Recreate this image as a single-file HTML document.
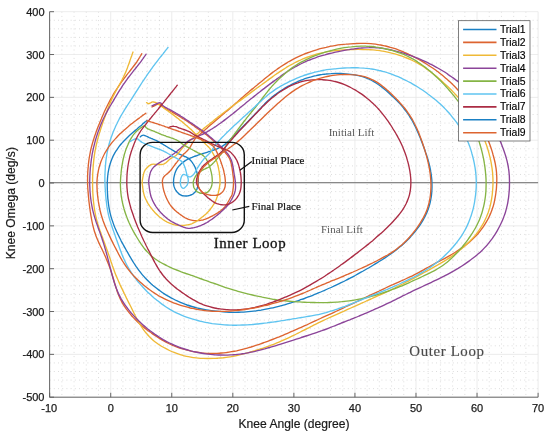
<!DOCTYPE html>
<html><head><meta charset="utf-8"><title>Knee phase plot</title>
<style>html,body{margin:0;padding:0;background:#fff}svg{display:block}</style></head>
<body>
<svg width="550" height="438" viewBox="0 0 550 438">
<rect width="550" height="438" fill="#fff"/>
<path d="M61.86 11.7V397.2M74.07 11.7V397.2M86.28 11.7V397.2M98.50 11.7V397.2M122.92 11.7V397.2M135.13 11.7V397.2M147.34 11.7V397.2M159.55 11.7V397.2M183.97 11.7V397.2M196.19 11.7V397.2M208.40 11.7V397.2M220.61 11.7V397.2M245.03 11.7V397.2M257.24 11.7V397.2M269.45 11.7V397.2M281.66 11.7V397.2M306.09 11.7V397.2M318.30 11.7V397.2M330.51 11.7V397.2M342.72 11.7V397.2M367.14 11.7V397.2M379.35 11.7V397.2M391.57 11.7V397.2M403.78 11.7V397.2M428.20 11.7V397.2M440.41 11.7V397.2M452.62 11.7V397.2M464.83 11.7V397.2M489.25 11.7V397.2M501.47 11.7V397.2M513.68 11.7V397.2M525.89 11.7V397.2M49.6 20.27H538.1M49.6 28.83H538.1M49.6 37.40H538.1M49.6 45.97H538.1M49.6 63.10H538.1M49.6 71.67H538.1M49.6 80.23H538.1M49.6 88.80H538.1M49.6 105.93H538.1M49.6 114.50H538.1M49.6 123.07H538.1M49.6 131.63H538.1M49.6 148.77H538.1M49.6 157.33H538.1M49.6 165.90H538.1M49.6 174.47H538.1M49.6 191.60H538.1M49.6 200.17H538.1M49.6 208.73H538.1M49.6 217.30H538.1M49.6 234.43H538.1M49.6 243.00H538.1M49.6 251.57H538.1M49.6 260.13H538.1M49.6 277.27H538.1M49.6 285.83H538.1M49.6 294.40H538.1M49.6 302.97H538.1M49.6 320.10H538.1M49.6 328.67H538.1M49.6 337.23H538.1M49.6 345.80H538.1M49.6 362.93H538.1M49.6 371.50H538.1M49.6 380.07H538.1M49.6 388.63H538.1" stroke="#cfcfcf" stroke-width="0.7" stroke-dasharray="1 3.2" fill="none"/>
<path d="M49.65 11.7V397.2M110.71 11.7V397.2M171.76 11.7V397.2M232.82 11.7V397.2M293.88 11.7V397.2M354.93 11.7V397.2M415.99 11.7V397.2M477.04 11.7V397.2M538.10 11.7V397.2M49.6 11.70H538.1M49.6 54.53H538.1M49.6 97.37H538.1M49.6 140.20H538.1M49.6 183.03H538.1M49.6 225.87H538.1M49.6 268.70H538.1M49.6 311.53H538.1M49.6 354.37H538.1M49.6 397.20H538.1" stroke="#e7e7e7" stroke-width="0.8" fill="none"/>
<path d="M49.6 182.70H538.1" stroke="#686868" stroke-width="0.95" fill="none"/>
<g fill="none" stroke-width="1.35" stroke-linejoin="round" stroke-linecap="round">
<path d="M140.3 136.9C140.5 136.7 141.2 135.9 141.8 135.6C142.4 135.3 143.1 135.1 143.7 135.2C144.3 135.2 145.0 135.6 145.6 135.8C146.2 136.1 146.8 136.4 147.4 136.7C148.0 137.0 148.6 137.3 149.2 137.6C149.8 137.8 150.4 138.1 151.0 138.3C151.6 138.6 152.3 138.8 152.9 139.1C153.5 139.3 154.1 139.6 154.7 139.9C155.3 140.1 155.9 140.4 156.5 140.7C157.1 141.0 157.7 141.3 158.3 141.6C158.9 141.9 159.5 142.3 160.1 142.6C160.6 142.9 161.2 143.3 161.8 143.6C162.3 144.0 162.9 144.3 163.5 144.7C164.1 145.0 164.6 145.4 165.2 145.7C165.8 146.0 166.3 146.4 166.9 146.7C167.5 147.1 168.0 147.4 168.6 147.8C169.2 148.1 169.8 148.5 170.3 148.8C170.9 149.2 171.5 149.5 172.0 149.8C172.6 150.2 173.2 150.5 173.8 150.9C174.3 151.2 174.9 151.6 175.5 151.9C176.0 152.2 176.6 152.6 177.2 152.9C177.8 153.2 178.4 153.6 178.9 153.9C179.5 154.2 180.1 154.5 180.8 154.7C181.4 155.0 182.0 155.2 182.6 155.5C183.2 155.7 183.8 156.0 184.4 156.3C185.1 156.5 185.7 156.8 186.3 157.1C186.9 157.4 187.4 157.7 188.0 158.1C188.5 158.5 189.1 158.9 189.5 159.4C190.0 159.8 190.5 160.3 190.9 160.8C191.4 161.3 191.8 161.8 192.2 162.3C192.6 162.9 193.0 163.4 193.3 164.0C193.7 164.6 194.0 165.2 194.3 165.7C194.6 166.3 194.9 166.9 195.2 167.5C195.4 168.2 195.7 168.8 195.9 169.4C196.1 170.0 196.4 170.7 196.6 171.3C196.8 171.9 196.9 172.6 197.1 173.2C197.3 173.9 197.4 174.5 197.6 175.2C197.7 175.8 197.8 176.5 197.9 177.1C198.1 177.8 198.1 178.4 198.2 179.1C198.3 179.8 198.3 180.4 198.3 181.1C198.3 181.8 198.3 182.4 198.3 183.1C198.2 183.8 198.1 184.4 198.0 185.1C197.9 185.7 197.8 186.4 197.6 187.0C197.4 187.7 197.2 188.3 197.0 188.9C196.7 189.6 196.4 190.2 196.1 190.7C195.7 191.3 195.3 191.8 194.9 192.3C194.4 192.8 193.9 193.2 193.4 193.6C192.8 194.0 192.3 194.4 191.7 194.7C191.1 195.0 190.5 195.2 189.8 195.4C189.2 195.6 188.5 195.7 187.9 195.8C187.2 195.9 186.5 196.0 185.9 196.0C185.2 196.0 184.5 196.0 183.9 195.9C183.2 195.8 182.6 195.7 181.9 195.5C181.3 195.3 180.7 195.0 180.1 194.6C179.6 194.3 179.0 193.9 178.5 193.4C178.0 193.0 177.6 192.5 177.1 192.0C176.7 191.5 176.3 191.0 175.9 190.5C175.5 189.9 175.2 189.3 174.9 188.7C174.6 188.1 174.4 187.5 174.2 186.9C174.0 186.2 173.8 185.6 173.7 184.9C173.6 184.3 173.6 183.6 173.6 182.9C173.5 182.3 173.5 181.6 173.6 180.9C173.6 180.3 173.6 179.6 173.7 178.9C173.8 178.3 173.9 177.6 174.0 177.0C174.2 176.3 174.3 175.6 174.5 175.0C174.6 174.4 174.8 173.7 175.0 173.1C175.2 172.5 175.5 171.8 175.7 171.2C176.0 170.6 176.3 170.0 176.6 169.4C176.9 168.8 177.3 168.3 177.7 167.7C178.1 167.2 178.5 166.7 178.9 166.2C179.4 165.6 179.8 165.2 180.3 164.7C180.8 164.2 181.2 163.8 181.7 163.3C182.2 162.9 182.8 162.5 183.3 162.1C183.8 161.6 184.4 161.3 184.9 160.9C185.5 160.5 186.0 160.2 186.6 159.9C187.2 159.5 187.8 159.2 188.4 158.9C189.0 158.7 189.6 158.4 190.2 158.1C190.8 157.8 191.4 157.6 192.1 157.3C192.7 157.1 193.3 156.9 193.9 156.6C194.6 156.4 195.2 156.2 195.8 156.0C196.5 155.8 197.1 155.5 197.7 155.3C198.4 155.1 199.0 154.9 199.6 154.7C200.3 154.5 200.9 154.3 201.5 154.1C202.2 153.9 202.8 153.7 203.4 153.5C204.1 153.3 204.7 153.1 205.3 152.9C206.0 152.7 206.6 152.5 207.2 152.3C207.9 152.1 208.5 151.9 209.1 151.7C209.8 151.5 210.4 151.3 211.0 151.0C211.7 150.8 212.3 150.6 212.9 150.4C213.6 150.2 214.2 150.0 214.8 149.7C215.5 149.5 216.1 149.3 216.7 149.0C217.3 148.8 217.9 148.5 218.5 148.2C219.1 147.9 219.7 147.6 220.3 147.3C220.9 147.0 221.5 146.7 222.0 146.3C222.6 146.0 223.2 145.6 223.7 145.2C224.3 144.9 224.8 144.5 225.3 144.1C225.9 143.6 226.4 143.2 226.9 142.8C227.4 142.3 227.8 141.9 228.3 141.4C228.8 140.9 229.3 140.5 229.8 140.0C230.2 139.5 230.7 139.1 231.2 138.6C231.6 138.1 232.1 137.6 232.6 137.2C233.0 136.7 233.5 136.2 234.0 135.7C234.4 135.3 234.9 134.8 235.4 134.3C235.8 133.8 236.0 133.7 236.8 132.9C237.6 132.0 239.1 130.5 240.3 129.3C241.5 128.1 242.6 127.0 243.8 125.8C245.0 124.6 246.1 123.4 247.3 122.2C248.5 121.0 249.6 119.8 250.8 118.6C251.9 117.4 253.1 116.2 254.2 115.0C255.4 113.8 256.5 112.6 257.7 111.4C258.8 110.1 259.9 108.9 261.1 107.7C262.2 106.5 263.4 105.3 264.5 104.1C265.7 102.9 266.9 101.8 268.1 100.6C269.3 99.5 270.5 98.4 271.8 97.3C273.1 96.3 274.4 95.2 275.7 94.3C277.0 93.3 278.4 92.3 279.8 91.4C281.2 90.5 282.6 89.6 284.0 88.7C285.4 87.9 286.9 87.0 288.3 86.2C289.8 85.4 291.2 84.7 292.7 83.9C294.2 83.2 295.7 82.5 297.2 81.8C298.8 81.1 300.3 80.5 301.8 79.9C303.4 79.3 304.9 78.7 306.5 78.2C308.1 77.7 309.7 77.2 311.3 76.8C312.9 76.3 314.5 75.9 316.1 75.6C317.7 75.2 319.4 74.9 321.0 74.6C322.6 74.4 324.3 74.1 325.9 74.0C327.6 73.8 329.2 73.6 330.9 73.6C332.6 73.5 334.2 73.4 335.9 73.4C337.5 73.4 339.2 73.4 340.9 73.5C342.5 73.6 344.2 73.7 345.8 73.8C347.5 74.0 349.1 74.2 350.8 74.4C352.4 74.6 354.1 74.9 355.7 75.2C357.3 75.5 358.9 75.8 360.5 76.2C362.1 76.6 363.7 77.1 365.3 77.6C366.8 78.2 368.3 78.8 369.8 79.5C371.3 80.2 372.7 80.9 374.2 81.8C375.6 82.6 376.9 83.5 378.3 84.5C379.7 85.4 381.0 86.4 382.3 87.4C383.6 88.5 384.8 89.5 386.1 90.6C387.4 91.7 388.6 92.8 389.9 93.9C391.1 95.0 392.3 96.1 393.5 97.3C394.7 98.4 395.9 99.6 397.1 100.8C398.2 102.0 399.4 103.2 400.5 104.4C401.6 105.7 402.7 106.9 403.7 108.2C404.8 109.5 405.8 110.8 406.8 112.2C407.7 113.5 408.7 114.9 409.6 116.3C410.4 117.7 411.3 119.1 412.1 120.5C412.9 122.0 413.7 123.5 414.4 124.9C415.2 126.4 415.9 127.9 416.6 129.4C417.3 130.9 417.9 132.5 418.6 134.0C419.2 135.5 419.9 137.1 420.5 138.6C421.1 140.2 421.7 141.7 422.3 143.3C422.9 144.8 423.5 146.4 424.1 148.0C424.6 149.5 425.2 151.1 425.7 152.7C426.3 154.2 426.8 155.8 427.3 157.4C427.8 159.0 428.2 160.6 428.7 162.2C429.1 163.8 429.5 165.4 429.9 167.0C430.2 168.7 430.6 170.3 430.8 171.9C431.1 173.6 431.4 175.2 431.5 176.8C431.7 178.5 431.9 180.1 431.9 181.8C432.0 183.4 432.0 185.1 432.0 186.8C432.0 188.4 431.9 190.1 431.8 191.7C431.7 193.4 431.5 195.0 431.3 196.7C431.0 198.3 430.7 199.9 430.4 201.5C430.0 203.1 429.6 204.7 429.1 206.3C428.7 207.9 428.1 209.5 427.5 211.0C426.9 212.5 426.2 214.0 425.5 215.5C424.8 217.0 424.0 218.4 423.2 219.9C422.4 221.3 421.5 222.7 420.6 224.1C419.7 225.5 418.7 226.9 417.7 228.2C416.7 229.5 415.7 230.8 414.7 232.1C413.6 233.4 412.5 234.7 411.4 235.9C410.3 237.1 409.2 238.4 408.0 239.5C406.8 240.7 405.6 241.9 404.4 243.0C403.2 244.1 401.9 245.2 400.7 246.3C399.4 247.4 398.1 248.4 396.8 249.4C395.5 250.5 394.2 251.5 392.8 252.5C391.5 253.4 390.1 254.4 388.8 255.3C387.4 256.3 386.0 257.2 384.6 258.1C383.2 259.0 381.8 259.9 380.4 260.8C379.0 261.7 377.6 262.5 376.1 263.4C374.7 264.3 373.3 265.1 371.8 266.0C370.4 266.8 369.0 267.7 367.5 268.5C366.1 269.3 364.6 270.2 363.2 271.0C361.7 271.8 360.3 272.6 358.8 273.4C357.4 274.3 355.9 275.1 354.5 275.9C353.0 276.7 351.5 277.4 350.1 278.2C348.6 279.0 347.1 279.8 345.6 280.5C344.1 281.3 342.6 282.0 341.1 282.7C339.6 283.5 338.1 284.2 336.6 284.9C335.1 285.6 333.6 286.3 332.1 287.0C330.6 287.7 329.0 288.3 327.5 289.0C326.0 289.7 324.5 290.3 322.9 291.0C321.4 291.7 319.9 292.3 318.3 292.9C316.8 293.6 315.2 294.2 313.7 294.8C312.2 295.5 310.6 296.1 309.1 296.7C307.5 297.3 305.9 297.9 304.4 298.5C302.8 299.0 301.2 299.6 299.7 300.1C298.1 300.7 296.5 301.2 294.9 301.7C293.4 302.2 291.8 302.7 290.2 303.2C288.6 303.7 287.0 304.2 285.4 304.6C283.8 305.0 282.2 305.5 280.5 305.9C278.9 306.3 277.3 306.7 275.7 307.1C274.1 307.5 272.4 307.9 270.8 308.2C269.2 308.6 267.6 308.9 265.9 309.2C264.3 309.5 262.7 309.8 261.0 310.1C259.4 310.3 257.7 310.6 256.1 310.8C254.4 311.1 252.8 311.3 251.1 311.4C249.5 311.6 247.8 311.8 246.1 311.9C244.5 312.0 242.8 312.1 241.2 312.2C239.5 312.3 237.8 312.3 236.2 312.4C234.5 312.4 232.8 312.4 231.2 312.3C229.5 312.3 227.9 312.2 226.2 312.1C224.5 312.0 222.9 311.9 221.2 311.7C219.6 311.6 217.9 311.4 216.3 311.2C214.6 311.1 212.9 310.9 211.3 310.6C209.6 310.4 208.0 310.2 206.4 309.9C204.7 309.6 203.1 309.3 201.5 309.0C199.8 308.6 198.2 308.3 196.6 307.9C195.0 307.5 193.4 307.0 191.8 306.5C190.2 306.0 188.6 305.5 187.1 305.0C185.5 304.4 184.0 303.8 182.4 303.2C180.9 302.6 179.4 301.9 177.8 301.2C176.3 300.5 174.8 299.8 173.4 299.0C171.9 298.3 170.4 297.5 169.0 296.6C167.5 295.8 166.1 295.0 164.7 294.1C163.3 293.2 161.9 292.3 160.6 291.3C159.2 290.4 157.9 289.4 156.6 288.3C155.3 287.3 154.0 286.3 152.7 285.2C151.5 284.1 150.2 283.0 149.0 281.8C147.8 280.7 146.7 279.5 145.5 278.3C144.4 277.1 143.3 275.9 142.2 274.6C141.1 273.3 140.1 272.0 139.1 270.7C138.1 269.4 137.2 268.0 136.2 266.7C135.3 265.3 134.4 263.9 133.5 262.5C132.6 261.1 131.8 259.6 130.9 258.2C130.1 256.8 129.2 255.3 128.4 253.9C127.6 252.4 126.7 251.0 125.9 249.5C125.1 248.1 124.3 246.6 123.5 245.2C122.7 243.7 121.9 242.2 121.1 240.8C120.4 239.3 119.6 237.8 118.9 236.3C118.1 234.8 117.4 233.3 116.7 231.8C116.1 230.3 115.4 228.8 114.7 227.2C114.1 225.7 113.5 224.1 113.0 222.6C112.4 221.0 111.9 219.5 111.4 217.9C110.9 216.3 110.5 214.7 110.1 213.1C109.7 211.4 109.4 209.8 109.1 208.2C108.8 206.6 108.6 204.9 108.4 203.3C108.2 201.6 108.0 200.0 107.8 198.3C107.7 196.7 107.6 195.0 107.5 193.3C107.4 191.7 107.3 190.0 107.3 188.3C107.3 186.7 107.2 185.0 107.3 183.4C107.3 181.7 107.4 180.0 107.5 178.4C107.6 176.7 107.8 175.1 108.0 173.5C108.3 171.8 108.5 170.2 108.9 168.6C109.3 167.0 109.7 165.4 110.2 163.8C110.6 162.2 111.2 160.7 111.8 159.2C112.4 157.6 113.1 156.1 113.9 154.7C114.6 153.2 115.5 151.8 116.4 150.4C117.3 149.1 118.2 147.7 119.2 146.4C120.2 145.1 121.3 143.9 122.4 142.6C123.5 141.4 124.7 140.2 125.9 139.0C127.0 137.9 128.2 136.7 129.4 135.6C130.7 134.4 131.9 133.3 133.1 132.2C134.4 131.1 135.7 130.1 137.0 129.0C138.2 127.9 139.9 126.5 140.8 125.8C141.7 125.0 141.8 124.9 142.3 124.4C142.8 124.0 143.3 123.6 143.8 123.1C144.3 122.7 144.8 122.3 145.3 121.8C145.8 121.4 146.5 120.7 146.8 120.5C147.0 120.3 146.8 120.5 146.8 120.5C146.8 120.4 147.0 120.2 147.0 120.2" stroke="#1A80C4"/>
<path d="M152.0 107.0C152.3 106.8 153.2 106.4 153.8 106.1C154.4 105.8 155.0 105.5 155.6 105.2C156.2 104.9 156.8 104.6 157.4 104.4C158.0 104.2 158.7 103.8 159.3 103.9C159.9 104.0 160.6 104.3 161.1 104.7C161.6 105.1 161.9 105.8 162.4 106.2C162.9 106.7 163.4 107.1 164.0 107.5C164.5 107.9 165.1 108.2 165.7 108.5C166.2 108.9 166.8 109.2 167.4 109.5C168.0 109.8 168.6 110.2 169.1 110.5C169.7 110.8 170.3 111.1 170.9 111.5C171.5 111.8 172.1 112.1 172.6 112.4C173.2 112.8 173.8 113.1 174.4 113.4C174.9 113.8 175.5 114.1 176.1 114.5C176.7 114.8 177.2 115.2 177.8 115.5C178.4 115.8 178.9 116.2 179.5 116.5C180.1 116.9 180.6 117.2 181.2 117.6C181.8 117.9 182.4 118.3 182.9 118.6C183.5 119.0 184.1 119.3 184.6 119.7C185.2 120.0 185.7 120.4 186.3 120.7C186.9 121.1 187.4 121.5 188.0 121.8C188.5 122.2 189.1 122.6 189.7 122.9C190.2 123.3 190.8 123.7 191.3 124.1C191.9 124.4 192.4 124.8 192.9 125.2C193.5 125.6 194.0 126.0 194.6 126.4C195.1 126.8 195.6 127.2 196.2 127.6C196.7 127.9 197.3 128.3 197.8 128.7C198.3 129.1 198.9 129.5 199.4 129.9C200.0 130.3 200.5 130.7 201.0 131.1C201.6 131.5 202.1 131.9 202.7 132.3C203.2 132.6 203.8 133.0 204.3 133.4C204.9 133.8 205.4 134.1 205.9 134.5C206.5 134.9 207.0 135.4 207.5 135.8C208.0 136.2 208.5 136.6 209.1 137.0C209.6 137.5 210.1 137.9 210.6 138.3C211.1 138.8 211.6 139.2 212.1 139.6C212.6 140.1 213.1 140.5 213.6 141.0C214.1 141.4 214.6 141.9 215.1 142.3C215.6 142.7 216.1 143.2 216.6 143.7C217.1 144.1 217.5 144.6 218.0 145.0C218.5 145.5 219.0 145.9 219.5 146.4C219.9 146.9 220.4 147.4 220.9 147.8C221.3 148.3 221.8 148.8 222.3 149.3C222.7 149.7 223.2 150.2 223.6 150.7C224.1 151.2 224.5 151.7 225.0 152.2C225.4 152.7 225.8 153.3 226.2 153.8C226.6 154.3 227.1 154.8 227.5 155.3C227.9 155.9 228.3 156.4 228.6 157.0C229.0 157.5 229.3 158.1 229.6 158.7C229.9 159.3 230.1 159.9 230.3 160.6C230.6 161.2 230.8 161.8 230.9 162.5C231.1 163.1 231.2 163.8 231.4 164.4C231.5 165.1 231.6 165.7 231.7 166.4C231.9 167.1 232.0 167.7 232.1 168.4C232.2 169.0 232.3 169.7 232.4 170.3C232.5 171.0 232.6 171.7 232.7 172.3C232.8 173.0 232.9 173.6 232.9 174.3C233.0 175.0 233.1 175.6 233.2 176.3C233.3 176.9 233.4 177.6 233.5 178.3C233.5 178.9 233.6 179.6 233.6 180.3C233.6 180.9 233.6 181.6 233.6 182.3C233.6 182.9 233.6 183.6 233.5 184.3C233.5 184.9 233.4 185.6 233.4 186.3C233.3 186.9 233.3 187.6 233.2 188.2C233.1 188.9 233.0 189.6 232.9 190.2C232.9 190.9 232.8 191.6 232.6 192.2C232.5 192.9 232.4 193.5 232.2 194.2C232.0 194.8 231.8 195.4 231.5 196.0C231.2 196.6 230.8 197.1 230.4 197.7C230.1 198.3 229.8 198.9 229.5 199.5C229.2 200.1 228.9 200.7 228.5 201.2C228.2 201.8 227.9 202.4 227.5 203.0C227.2 203.5 226.8 204.1 226.5 204.7C226.1 205.2 225.7 205.8 225.3 206.3C224.9 206.8 224.5 207.3 224.0 207.8C223.5 208.3 223.1 208.7 222.6 209.2C222.1 209.6 221.5 210.0 221.0 210.5C220.5 210.9 220.0 211.3 219.4 211.6C218.9 212.0 218.3 212.4 217.7 212.8C217.2 213.1 216.6 213.5 216.0 213.8C215.5 214.2 214.9 214.5 214.3 214.8C213.7 215.1 213.2 215.5 212.6 215.8C212.0 216.1 211.4 216.4 210.8 216.7C210.2 217.0 209.6 217.3 209.0 217.6C208.4 217.9 207.8 218.2 207.2 218.4C206.6 218.7 206.0 218.9 205.3 219.2C204.7 219.4 204.1 219.6 203.4 219.8C202.8 220.0 202.1 220.1 201.5 220.2C200.8 220.3 200.2 220.4 199.5 220.5C198.8 220.6 198.2 220.6 197.5 220.6C196.8 220.6 196.2 220.6 195.5 220.6C194.8 220.6 194.2 220.5 193.5 220.5C192.8 220.4 192.2 220.3 191.5 220.1C190.9 220.0 190.2 219.9 189.6 219.7C188.9 219.5 188.3 219.3 187.7 219.0C187.1 218.8 186.5 218.5 185.9 218.2C185.3 217.9 184.7 217.5 184.2 217.2C183.6 216.8 183.0 216.4 182.5 216.1C181.9 215.7 181.4 215.3 180.8 214.9C180.3 214.5 179.8 214.1 179.2 213.7C178.7 213.3 178.2 212.9 177.7 212.5C177.1 212.1 176.6 211.7 176.1 211.2C175.6 210.8 175.1 210.4 174.6 209.9C174.1 209.5 173.7 209.0 173.2 208.5C172.7 208.0 172.3 207.5 171.9 207.0C171.4 206.5 171.0 206.0 170.6 205.4C170.2 204.9 169.9 204.4 169.5 203.8C169.1 203.2 168.8 202.7 168.5 202.1C168.1 201.5 167.8 200.9 167.5 200.3C167.2 199.7 166.9 199.1 166.7 198.5C166.4 197.9 166.1 197.3 165.9 196.7C165.6 196.1 165.4 195.4 165.1 194.8C164.9 194.2 164.7 193.6 164.5 192.9C164.3 192.3 164.1 191.7 163.9 191.0C163.7 190.4 163.6 189.7 163.4 189.1C163.3 188.4 163.1 187.8 163.0 187.1C162.9 186.5 162.8 185.8 162.7 185.1C162.6 184.5 162.6 183.8 162.5 183.1C162.4 182.5 162.4 181.8 162.4 181.2C162.4 180.5 162.5 179.8 162.7 179.2C162.9 178.5 163.2 177.9 163.5 177.4C163.9 176.8 164.3 176.3 164.8 175.8C165.2 175.3 165.8 174.9 166.3 174.5C166.8 174.0 167.3 173.6 167.8 173.2C168.3 172.7 168.8 172.3 169.3 171.9C169.8 171.4 170.2 170.9 170.6 170.4C171.1 169.9 171.5 169.4 171.9 168.8C172.3 168.3 172.7 167.8 173.1 167.2C173.5 166.7 173.9 166.1 174.3 165.6C174.7 165.1 175.0 164.5 175.4 164.0C175.8 163.5 176.2 162.9 176.7 162.4C177.1 161.9 177.5 161.4 177.9 160.8C178.3 160.3 178.7 159.8 179.2 159.3C179.6 158.8 180.0 158.2 180.4 157.7C180.9 157.2 181.3 156.7 181.7 156.2C182.2 155.7 182.6 155.2 183.1 154.7C183.5 154.2 184.0 153.8 184.5 153.3C185.0 152.9 185.5 152.4 186.0 152.0C186.5 151.5 187.0 151.1 187.4 150.6C187.9 150.1 188.3 149.6 188.7 149.1C189.2 148.6 189.5 148.0 189.9 147.5C190.3 146.9 190.6 146.3 190.9 145.8C191.3 145.2 191.6 144.6 191.9 144.0C192.2 143.4 192.5 142.9 192.9 142.3C193.2 141.7 193.5 141.1 193.9 140.6C194.3 140.0 194.7 139.5 195.1 138.9C195.5 138.4 195.9 137.9 196.4 137.4C196.8 136.9 197.3 136.5 197.8 136.0C198.3 135.6 198.8 135.2 199.3 134.8C199.9 134.3 200.4 133.9 200.9 133.4C201.4 133.0 201.9 132.6 202.4 132.1C202.9 131.7 203.4 131.2 203.9 130.8C204.4 130.4 204.9 129.9 205.4 129.5C205.9 129.0 206.4 128.6 206.9 128.2C207.4 127.7 207.9 127.3 208.4 126.8C208.9 126.4 209.4 126.0 209.9 125.5C210.4 125.1 210.5 125.0 211.4 124.2C212.3 123.4 213.9 122.0 215.2 120.9C216.4 119.9 217.7 118.8 219.0 117.7C220.3 116.6 221.5 115.6 222.8 114.5C224.1 113.4 225.3 112.3 226.6 111.3C227.9 110.2 229.1 109.1 230.4 108.0C231.7 106.9 232.9 105.8 234.1 104.7C235.4 103.6 236.6 102.5 237.9 101.4C239.1 100.3 240.4 99.2 241.6 98.1C242.9 97.0 244.1 95.9 245.4 94.8C246.7 93.7 247.9 92.6 249.2 91.6C250.5 90.5 251.8 89.4 253.1 88.4C254.3 87.3 255.6 86.2 256.9 85.2C258.2 84.1 259.5 83.0 260.8 82.0C262.0 80.9 263.3 79.9 264.6 78.8C265.9 77.7 267.2 76.7 268.5 75.7C269.8 74.6 271.1 73.6 272.4 72.6C273.8 71.6 275.1 70.6 276.5 69.7C277.8 68.7 279.2 67.8 280.6 66.8C282.0 65.9 283.4 65.0 284.8 64.1C286.2 63.2 287.6 62.4 289.0 61.5C290.5 60.7 291.9 59.9 293.4 59.1C294.9 58.3 296.4 57.6 297.9 56.9C299.4 56.2 300.9 55.5 302.4 54.8C303.9 54.2 305.5 53.5 307.0 53.0C308.6 52.4 310.2 51.8 311.7 51.3C313.3 50.7 314.9 50.2 316.5 49.8C318.1 49.3 319.7 48.8 321.3 48.4C322.9 48.0 324.5 47.6 326.1 47.3C327.8 46.9 329.4 46.6 331.0 46.2C332.7 45.9 334.3 45.7 335.9 45.4C337.6 45.1 339.2 44.9 340.9 44.7C342.5 44.5 344.2 44.3 345.9 44.2C347.5 44.0 349.2 43.9 350.8 43.8C352.5 43.6 354.2 43.5 355.8 43.5C357.5 43.4 359.1 43.4 360.8 43.4C362.5 43.3 364.1 43.4 365.8 43.4C367.4 43.5 369.1 43.6 370.8 43.7C372.4 43.8 374.1 44.0 375.7 44.2C377.4 44.5 379.0 44.7 380.6 45.0C382.3 45.3 383.9 45.7 385.5 46.0C387.1 46.4 388.7 46.8 390.3 47.3C391.9 47.7 393.5 48.2 395.1 48.7C396.7 49.2 398.2 49.8 399.8 50.4C401.3 51.0 402.9 51.6 404.4 52.3C405.9 52.9 407.5 53.6 408.9 54.3C410.4 55.0 411.9 55.8 413.4 56.6C414.9 57.3 416.4 58.1 417.8 58.9C419.3 59.7 420.7 60.6 422.1 61.4C423.6 62.3 425.0 63.1 426.4 64.0C427.8 64.9 429.2 65.8 430.6 66.7C432.0 67.6 433.4 68.5 434.8 69.5C436.1 70.5 437.5 71.4 438.8 72.4C440.1 73.5 441.4 74.5 442.7 75.5C444.0 76.6 445.2 77.7 446.5 78.8C447.7 79.9 449.0 81.0 450.2 82.1C451.4 83.3 452.6 84.4 453.7 85.6C454.9 86.8 456.1 88.0 457.2 89.2C458.3 90.4 459.5 91.7 460.6 92.9C461.7 94.2 462.8 95.4 463.8 96.7C464.9 98.0 465.9 99.3 467.0 100.6C468.0 101.9 469.0 103.2 470.0 104.6C470.9 105.9 471.9 107.3 472.8 108.7C473.7 110.0 474.6 111.5 475.5 112.9C476.3 114.3 477.2 115.7 478.0 117.2C478.7 118.7 479.5 120.1 480.3 121.6C481.0 123.1 481.7 124.6 482.4 126.1C483.1 127.6 483.8 129.2 484.4 130.7C485.1 132.2 485.7 133.8 486.3 135.3C487.0 136.9 487.6 138.4 488.1 140.0C488.7 141.5 489.3 143.1 489.9 144.7C490.4 146.2 491.0 147.8 491.5 149.4C492.0 151.0 492.5 152.6 492.9 154.2C493.4 155.8 493.8 157.4 494.2 159.0C494.6 160.6 495.0 162.2 495.3 163.8C495.6 165.5 495.9 167.1 496.1 168.7C496.3 170.4 496.5 172.0 496.6 173.7C496.7 175.3 496.8 177.0 496.8 178.6C496.8 180.3 496.8 182.0 496.7 183.6C496.6 185.3 496.5 186.9 496.4 188.6C496.2 190.2 496.0 191.9 495.8 193.5C495.6 195.2 495.3 196.8 495.0 198.4C494.7 200.1 494.4 201.7 494.0 203.3C493.6 204.9 493.2 206.5 492.6 208.0C492.1 209.6 491.6 211.2 490.9 212.7C490.3 214.2 489.6 215.7 488.9 217.2C488.2 218.7 487.4 220.1 486.5 221.6C485.7 223.0 484.8 224.4 483.9 225.8C483.0 227.2 482.0 228.5 481.0 229.8C480.0 231.2 479.0 232.4 477.9 233.7C476.8 234.9 475.7 236.1 474.5 237.3C473.3 238.5 472.1 239.6 470.9 240.7C469.7 241.8 468.4 242.9 467.1 243.9C465.8 245.0 464.5 246.0 463.1 247.0C461.8 247.9 460.4 248.9 459.0 249.8C457.7 250.8 456.3 251.7 454.9 252.5C453.4 253.4 452.0 254.3 450.6 255.1C449.1 256.0 447.7 256.8 446.2 257.6C444.8 258.4 443.3 259.2 441.8 259.9C440.4 260.7 438.9 261.5 437.4 262.2C435.9 263.0 434.5 263.8 433.0 264.6C431.5 265.4 430.1 266.2 428.6 267.0C427.2 267.8 425.7 268.6 424.3 269.4C422.8 270.2 421.4 271.1 419.9 271.8C418.5 272.6 417.0 273.4 415.5 274.2C414.0 274.9 412.6 275.7 411.1 276.4C409.6 277.1 408.0 277.8 406.5 278.5C405.0 279.2 403.5 279.9 402.0 280.5C400.5 281.2 398.9 281.9 397.4 282.6C395.9 283.3 394.4 284.0 392.9 284.7C391.3 285.3 389.8 286.0 388.3 286.7C386.8 287.4 385.3 288.1 383.8 288.8C382.3 289.5 380.8 290.2 379.2 291.0C377.7 291.7 376.2 292.4 374.7 293.1C373.2 293.8 371.7 294.5 370.2 295.2C368.7 296.0 367.2 296.7 365.7 297.4C364.2 298.1 362.7 298.9 361.2 299.6C359.7 300.3 358.2 301.0 356.7 301.7C355.2 302.5 353.7 303.2 352.2 303.9C350.7 304.6 349.2 305.3 347.7 306.0C346.1 306.7 344.6 307.4 343.1 308.1C341.6 308.8 340.1 309.5 338.6 310.2C337.1 310.9 335.5 311.6 334.0 312.3C332.5 313.0 331.0 313.7 329.5 314.3C328.0 315.0 326.4 315.7 324.9 316.4C323.4 317.1 321.9 317.8 320.4 318.5C318.9 319.2 317.4 319.9 315.8 320.6C314.3 321.3 312.8 322.0 311.3 322.7C309.8 323.4 308.3 324.1 306.8 324.8C305.2 325.4 303.7 326.1 302.2 326.8C300.7 327.5 299.1 328.1 297.6 328.8C296.1 329.5 294.6 330.2 293.1 330.9C291.5 331.5 290.0 332.2 288.5 332.9C287.0 333.5 285.4 334.2 283.9 334.8C282.4 335.5 280.8 336.1 279.3 336.8C277.7 337.4 276.2 338.0 274.6 338.6C273.1 339.2 271.5 339.8 270.0 340.4C268.4 341.0 266.9 341.6 265.3 342.2C263.7 342.7 262.2 343.3 260.6 343.8C259.0 344.4 257.4 344.9 255.8 345.4C254.3 346.0 252.7 346.5 251.1 347.0C249.5 347.4 247.9 347.9 246.3 348.3C244.7 348.8 243.1 349.2 241.5 349.6C239.8 350.0 238.2 350.4 236.6 350.8C235.0 351.1 233.3 351.4 231.7 351.7C230.1 352.0 228.4 352.3 226.8 352.5C225.1 352.7 223.5 352.9 221.8 353.0C220.2 353.2 218.5 353.3 216.9 353.3C215.2 353.4 213.5 353.4 211.9 353.4C210.2 353.4 208.6 353.3 206.9 353.3C205.2 353.2 203.6 353.0 201.9 352.9C200.3 352.7 198.6 352.5 197.0 352.2C195.4 352.0 193.7 351.7 192.1 351.3C190.5 351.0 188.9 350.6 187.3 350.2C185.6 349.8 184.0 349.4 182.5 348.9C180.9 348.4 179.3 347.9 177.7 347.3C176.2 346.8 174.6 346.2 173.1 345.5C171.6 344.9 170.1 344.2 168.6 343.5C167.1 342.7 165.6 341.9 164.2 341.1C162.7 340.3 161.3 339.5 159.9 338.6C158.5 337.7 157.1 336.8 155.7 335.9C154.3 335.0 152.9 334.1 151.6 333.1C150.2 332.1 148.8 331.2 147.5 330.2C146.2 329.2 144.9 328.1 143.6 327.1C142.3 326.0 141.0 325.0 139.8 323.9C138.6 322.8 137.3 321.6 136.2 320.5C135.0 319.3 133.8 318.1 132.7 316.9C131.6 315.6 130.5 314.4 129.5 313.1C128.4 311.8 127.4 310.5 126.4 309.2C125.5 307.8 124.5 306.5 123.6 305.1C122.8 303.7 121.9 302.2 121.2 300.8C120.4 299.3 119.7 297.8 119.1 296.3C118.4 294.8 117.9 293.2 117.3 291.7C116.8 290.1 116.3 288.5 115.8 286.9C115.3 285.4 114.9 283.8 114.4 282.2C113.9 280.6 113.5 279.0 113.0 277.4C112.5 275.8 112.0 274.2 111.5 272.6C111.0 271.0 110.4 269.4 109.9 267.9C109.3 266.3 108.7 264.8 108.1 263.2C107.5 261.7 106.9 260.1 106.2 258.6C105.6 257.1 104.9 255.5 104.2 254.0C103.5 252.5 102.8 251.0 102.1 249.5C101.4 248.0 100.6 246.5 99.9 245.0C99.2 243.5 98.5 242.0 97.9 240.5C97.2 238.9 96.6 237.4 96.0 235.9C95.4 234.3 94.9 232.7 94.4 231.2C93.9 229.6 93.5 228.0 93.1 226.4C92.7 224.8 92.3 223.1 92.0 221.5C91.7 219.9 91.4 218.2 91.1 216.6C90.8 215.0 90.6 213.3 90.3 211.7C90.1 210.0 89.8 208.4 89.6 206.7C89.4 205.1 89.2 203.4 89.0 201.8C88.8 200.1 88.7 198.4 88.5 196.8C88.3 195.1 88.2 193.5 88.1 191.8C87.9 190.1 87.8 188.5 87.7 186.8C87.7 185.2 87.6 183.5 87.6 181.8C87.6 180.2 87.6 178.5 87.6 176.8C87.6 175.2 87.7 173.5 87.8 171.9C87.9 170.2 88.0 168.5 88.2 166.9C88.3 165.2 88.5 163.6 88.7 161.9C88.9 160.3 89.1 158.6 89.4 157.0C89.7 155.3 90.0 153.7 90.3 152.1C90.6 150.5 91.0 148.8 91.4 147.2C91.8 145.6 92.3 144.0 92.7 142.4C93.2 140.8 93.7 139.2 94.2 137.6C94.7 136.1 95.3 134.5 95.8 132.9C96.4 131.3 96.9 129.8 97.5 128.2C98.1 126.7 98.7 125.1 99.4 123.6C100.0 122.0 100.6 120.5 101.3 119.0C101.9 117.4 102.6 115.9 103.2 114.4C103.9 112.8 104.6 111.3 105.3 109.8C106.0 108.3 106.8 106.8 107.5 105.3C108.2 103.8 109.0 102.4 109.8 100.9C110.6 99.4 111.4 98.0 112.2 96.5C113.0 95.1 113.8 93.6 114.7 92.2C115.6 90.8 116.5 89.4 117.4 88.0C118.3 86.6 119.2 85.2 120.2 83.8C121.1 82.5 122.1 81.1 123.1 79.8C124.1 78.4 125.1 77.1 126.1 75.8C127.1 74.5 128.1 73.2 129.2 71.9C130.2 70.5 131.2 69.3 132.3 67.9C133.3 66.6 134.6 64.9 135.3 64.0C136.0 63.1 136.1 62.9 136.5 62.4C136.9 61.8 137.2 61.3 137.6 60.7C137.9 60.1 138.3 59.6 138.6 59.0C139.0 58.4 139.3 57.9 139.7 57.3C140.0 56.7 140.3 56.1 140.7 55.6C141.0 55.0 141.5 54.1 141.7 53.8C141.8 53.5 141.7 53.8 141.7 53.8C141.7 53.8 141.7 53.8 141.7 53.8" stroke="#DD6430"/>
<path d="M146.6 102.6C146.9 102.8 147.7 103.6 148.3 103.7C148.9 103.8 149.5 103.5 150.1 103.2C150.7 102.9 151.2 102.3 151.8 102.1C152.4 101.9 153.1 101.9 153.7 102.0C154.4 102.0 155.0 102.3 155.7 102.5C156.3 102.8 156.9 103.1 157.4 103.5C158.0 103.8 158.5 104.2 159.1 104.6C159.6 105.0 160.1 105.4 160.7 105.8C161.2 106.2 161.7 106.6 162.3 107.0C162.8 107.3 163.4 107.7 163.9 108.1C164.5 108.5 165.0 108.9 165.5 109.3C166.1 109.7 166.6 110.0 167.2 110.4C167.7 110.8 168.3 111.2 168.8 111.6C169.3 112.0 169.9 112.4 170.4 112.8C171.0 113.2 171.5 113.5 172.0 113.9C172.6 114.3 173.1 114.7 173.6 115.1C174.2 115.5 174.7 115.9 175.2 116.4C175.8 116.8 176.3 117.2 176.8 117.6C177.3 118.0 177.9 118.4 178.4 118.8C178.9 119.2 179.4 119.7 179.9 120.1C180.5 120.5 181.0 120.9 181.5 121.3C182.0 121.8 182.5 122.2 183.0 122.6C183.5 123.0 184.1 123.5 184.6 123.9C185.1 124.3 185.6 124.8 186.1 125.2C186.6 125.6 187.1 126.1 187.6 126.5C188.1 126.9 188.6 127.4 189.1 127.8C189.6 128.2 190.1 128.7 190.6 129.1C191.1 129.6 191.6 130.1 192.1 130.5C192.5 131.0 193.0 131.5 193.5 131.9C193.9 132.4 194.4 132.9 194.9 133.4C195.3 133.8 195.8 134.3 196.3 134.8C196.8 135.3 197.2 135.7 197.7 136.2C198.2 136.7 198.6 137.1 199.1 137.6C199.6 138.1 200.1 138.5 200.5 139.0C201.0 139.5 201.5 139.9 202.0 140.4C202.4 140.9 202.9 141.4 203.4 141.8C203.8 142.3 204.3 142.8 204.8 143.3C205.2 143.7 205.7 144.2 206.2 144.7C206.7 145.1 207.1 145.6 207.6 146.1C208.1 146.5 208.6 147.0 209.0 147.5C209.5 148.0 209.9 148.5 210.3 149.0C210.7 149.5 211.1 150.1 211.4 150.7C211.8 151.2 212.1 151.8 212.4 152.4C212.8 153.0 213.1 153.6 213.4 154.2C213.7 154.7 214.0 155.3 214.3 155.9C214.6 156.5 214.9 157.1 215.2 157.7C215.4 158.4 215.7 159.0 215.9 159.6C216.2 160.2 216.4 160.8 216.7 161.5C216.9 162.1 217.1 162.7 217.3 163.3C217.5 164.0 217.7 164.6 217.8 165.3C218.0 165.9 218.2 166.6 218.3 167.2C218.4 167.9 218.6 168.5 218.7 169.2C218.8 169.8 218.9 170.5 219.1 171.1C219.2 171.8 219.3 172.5 219.4 173.1C219.5 173.8 219.6 174.4 219.6 175.1C219.7 175.8 219.8 176.4 219.8 177.1C219.9 177.8 219.9 178.4 220.0 179.1C220.0 179.8 220.0 180.4 220.0 181.1C220.0 181.8 220.0 182.4 220.0 183.1C219.9 183.8 219.9 184.4 219.8 185.1C219.7 185.7 219.6 186.4 219.5 187.1C219.4 187.7 219.3 188.4 219.2 189.0C219.0 189.7 218.9 190.3 218.7 191.0C218.6 191.6 218.4 192.3 218.3 192.9C218.1 193.6 218.0 194.2 217.8 194.9C217.6 195.5 217.4 196.1 217.2 196.8C217.0 197.4 216.8 198.0 216.5 198.7C216.3 199.3 216.0 199.9 215.8 200.5C215.5 201.1 215.2 201.7 214.9 202.3C214.6 202.9 214.2 203.5 213.9 204.0C213.6 204.6 213.2 205.2 212.8 205.7C212.5 206.3 212.1 206.9 211.7 207.4C211.3 207.9 210.9 208.5 210.5 209.0C210.1 209.5 209.7 210.0 209.3 210.6C208.8 211.1 208.4 211.6 207.9 212.0C207.5 212.5 207.0 213.0 206.5 213.5C206.0 213.9 205.5 214.4 205.0 214.8C204.5 215.2 204.0 215.6 203.5 216.1C203.0 216.5 202.4 216.9 201.9 217.3C201.4 217.7 200.9 218.1 200.3 218.5C199.8 218.9 199.3 219.3 198.7 219.7C198.2 220.1 197.7 220.5 197.1 220.9C196.5 221.2 195.9 221.5 195.4 221.9C194.8 222.2 194.2 222.6 193.6 222.9C193.0 223.2 192.5 223.5 191.8 223.8C191.2 224.0 190.6 224.2 189.9 224.4C189.3 224.6 188.6 224.7 188.0 224.8C187.3 224.9 186.7 225.0 186.0 225.1C185.3 225.2 184.7 225.3 184.0 225.3C183.4 225.4 182.7 225.4 182.0 225.5C181.4 225.5 180.7 225.5 180.0 225.5C179.4 225.5 178.7 225.5 178.0 225.4C177.4 225.3 176.7 225.2 176.1 225.1C175.4 225.0 174.7 224.8 174.1 224.7C173.5 224.5 172.8 224.3 172.2 224.1C171.6 223.9 170.9 223.7 170.3 223.4C169.7 223.2 169.1 222.9 168.5 222.6C167.9 222.4 167.3 222.1 166.7 221.8C166.1 221.4 165.5 221.1 164.9 220.8C164.4 220.4 163.8 220.1 163.2 219.7C162.7 219.3 162.2 218.9 161.6 218.5C161.1 218.1 160.6 217.7 160.0 217.3C159.5 216.9 159.0 216.4 158.5 216.0C158.0 215.5 157.5 215.1 157.1 214.6C156.6 214.2 156.1 213.7 155.6 213.2C155.2 212.8 154.7 212.3 154.3 211.8C153.8 211.3 153.4 210.8 152.9 210.3C152.5 209.8 152.1 209.3 151.7 208.7C151.3 208.2 150.9 207.7 150.5 207.1C150.1 206.6 149.7 206.1 149.3 205.5C148.9 204.9 148.6 204.4 148.2 203.8C147.9 203.3 147.5 202.7 147.2 202.1C146.9 201.5 146.6 200.9 146.3 200.3C146.0 199.7 145.7 199.1 145.4 198.5C145.1 197.9 144.9 197.3 144.7 196.7C144.4 196.1 144.2 195.4 144.1 194.8C143.9 194.1 143.7 193.5 143.6 192.8C143.4 192.2 143.3 191.5 143.2 190.9C143.1 190.2 143.0 189.6 142.9 188.9C142.8 188.2 142.7 187.6 142.6 186.9C142.6 186.2 142.5 185.6 142.4 184.9C142.3 184.3 142.2 183.6 142.2 182.9C142.2 182.3 142.2 181.6 142.3 180.9C142.3 180.3 142.5 179.6 142.6 179.0C142.7 178.3 142.8 177.7 142.9 177.0C143.1 176.3 143.2 175.7 143.3 175.0C143.5 174.4 143.6 173.7 143.8 173.1C144.0 172.5 144.2 171.8 144.5 171.2C144.8 170.6 145.1 170.0 145.5 169.5C145.9 168.9 146.3 168.4 146.8 167.9C147.2 167.5 147.7 167.0 148.2 166.6C148.7 166.1 149.2 165.7 149.8 165.4C150.4 165.0 151.0 164.7 151.6 164.4C152.2 164.2 152.9 164.1 153.5 164.1C154.2 164.1 154.9 164.2 155.5 164.3C156.2 164.4 156.8 164.5 157.5 164.5C158.2 164.5 158.8 164.5 159.5 164.5C160.2 164.5 160.8 164.6 161.5 164.5C162.2 164.4 162.8 164.3 163.5 164.1C164.1 163.9 164.7 163.5 165.2 163.2C165.8 162.8 166.3 162.4 166.8 161.9C167.3 161.5 167.8 161.0 168.3 160.6C168.8 160.1 169.3 159.7 169.8 159.3C170.3 158.9 170.9 158.5 171.4 158.2C172.0 157.8 172.6 157.5 173.2 157.2C173.8 156.9 174.4 156.6 174.9 156.2C175.5 155.8 176.0 155.4 176.5 155.0C177.0 154.5 177.5 154.0 177.9 153.6C178.3 153.1 178.8 152.5 179.2 152.0C179.6 151.5 180.0 151.0 180.4 150.5C180.8 149.9 181.2 149.4 181.7 148.9C182.1 148.4 182.5 147.9 183.0 147.4C183.4 146.9 183.9 146.4 184.4 145.9C184.9 145.5 185.3 145.0 185.8 144.5C186.3 144.1 186.8 143.6 187.2 143.2C187.7 142.7 188.2 142.2 188.7 141.8C189.2 141.3 189.7 140.9 190.2 140.4C190.6 140.0 191.1 139.5 191.6 139.1C192.1 138.6 192.6 138.2 193.1 137.7C193.6 137.3 194.1 136.8 194.6 136.4C195.1 135.9 195.6 135.5 196.0 135.0C196.5 134.5 197.0 134.1 197.5 133.6C198.0 133.2 198.5 132.7 199.0 132.3C199.5 131.9 200.0 131.5 200.6 131.0C201.1 130.6 201.6 130.2 202.1 129.8C202.6 129.4 203.2 129.0 203.7 128.5C204.2 128.1 204.7 127.7 205.2 127.3C205.8 126.9 206.3 126.5 206.8 126.0C207.3 125.6 207.8 125.2 208.4 124.8C208.9 124.4 209.0 124.3 209.9 123.5C210.8 122.8 212.5 121.5 213.8 120.4C215.1 119.4 216.4 118.3 217.7 117.3C219.0 116.3 220.4 115.3 221.7 114.2C223.0 113.2 224.3 112.2 225.6 111.2C227.0 110.2 228.3 109.2 229.6 108.2C231.0 107.2 232.3 106.2 233.7 105.3C235.0 104.3 236.4 103.3 237.7 102.3C239.1 101.3 240.4 100.4 241.8 99.4C243.1 98.4 244.4 97.4 245.8 96.4C247.1 95.4 248.4 94.4 249.8 93.4C251.1 92.4 252.4 91.4 253.8 90.4C255.1 89.4 256.5 88.5 257.8 87.5C259.2 86.5 260.5 85.5 261.9 84.5C263.2 83.5 264.5 82.5 265.9 81.6C267.2 80.6 268.6 79.6 269.9 78.6C271.3 77.7 272.6 76.7 274.0 75.7C275.4 74.8 276.7 73.8 278.1 72.9C279.5 71.9 280.9 71.0 282.3 70.1C283.7 69.2 285.1 68.3 286.5 67.4C287.9 66.6 289.3 65.7 290.8 64.9C292.2 64.1 293.7 63.3 295.2 62.5C296.6 61.8 298.1 61.0 299.6 60.4C301.2 59.7 302.7 59.0 304.2 58.4C305.8 57.8 307.3 57.2 308.9 56.6C310.5 56.1 312.0 55.6 313.6 55.1C315.2 54.6 316.8 54.1 318.4 53.7C320.0 53.3 321.7 52.9 323.3 52.6C324.9 52.2 326.5 51.9 328.2 51.7C329.8 51.4 331.5 51.1 333.1 50.9C334.8 50.7 336.4 50.5 338.1 50.3C339.7 50.2 341.4 50.0 343.0 49.9C344.7 49.8 346.4 49.7 348.0 49.6C349.7 49.6 351.4 49.5 353.0 49.5C354.7 49.4 356.3 49.4 358.0 49.4C359.7 49.4 361.3 49.4 363.0 49.5C364.7 49.5 366.3 49.5 368.0 49.6C369.7 49.7 371.3 49.8 373.0 49.9C374.6 50.1 376.3 50.2 377.9 50.4C379.6 50.6 381.2 50.9 382.9 51.2C384.5 51.5 386.1 51.8 387.7 52.1C389.4 52.5 391.0 52.9 392.6 53.3C394.2 53.7 395.8 54.2 397.4 54.6C399.0 55.1 400.6 55.7 402.1 56.2C403.7 56.8 405.2 57.4 406.8 58.0C408.3 58.6 409.8 59.3 411.3 60.0C412.8 60.7 414.3 61.4 415.8 62.2C417.3 63.0 418.7 63.8 420.1 64.7C421.5 65.5 423.0 66.4 424.3 67.3C425.7 68.3 427.1 69.2 428.4 70.2C429.8 71.2 431.1 72.2 432.4 73.2C433.7 74.2 435.0 75.2 436.3 76.3C437.6 77.4 438.9 78.4 440.1 79.5C441.4 80.6 442.6 81.7 443.8 82.9C445.1 84.0 446.3 85.1 447.5 86.3C448.7 87.4 449.9 88.6 451.1 89.8C452.2 91.0 453.4 92.2 454.5 93.4C455.7 94.6 456.8 95.8 457.9 97.1C459.0 98.3 460.1 99.6 461.1 100.8C462.2 102.1 463.3 103.4 464.3 104.7C465.3 106.0 466.3 107.3 467.3 108.7C468.3 110.0 469.3 111.4 470.2 112.8C471.2 114.1 472.1 115.5 473.0 116.9C473.8 118.3 474.7 119.7 475.5 121.2C476.4 122.6 477.2 124.1 478.0 125.5C478.7 127.0 479.5 128.5 480.2 130.0C481.0 131.5 481.7 133.0 482.3 134.5C483.0 136.0 483.6 137.6 484.2 139.1C484.9 140.7 485.4 142.2 486.0 143.8C486.6 145.4 487.1 146.9 487.6 148.5C488.1 150.1 488.5 151.7 489.0 153.3C489.4 154.9 489.8 156.5 490.2 158.2C490.6 159.8 490.9 161.4 491.2 163.0C491.5 164.7 491.8 166.3 492.0 167.9C492.2 169.6 492.4 171.2 492.6 172.9C492.7 174.5 492.8 176.2 492.9 177.9C493.0 179.5 493.0 181.2 493.0 182.8C493.0 184.5 492.9 186.2 492.8 187.8C492.7 189.5 492.6 191.1 492.4 192.8C492.3 194.4 492.1 196.1 491.8 197.7C491.6 199.4 491.3 201.0 490.9 202.6C490.6 204.2 490.2 205.8 489.8 207.4C489.3 209.0 488.8 210.6 488.3 212.2C487.7 213.7 487.1 215.3 486.5 216.8C485.8 218.3 485.2 219.8 484.4 221.3C483.7 222.8 482.9 224.2 482.0 225.7C481.2 227.1 480.3 228.5 479.3 229.8C478.4 231.2 477.4 232.5 476.4 233.8C475.4 235.1 474.3 236.4 473.2 237.6C472.1 238.9 470.9 240.1 469.8 241.3C468.6 242.4 467.4 243.6 466.2 244.7C465.0 245.8 463.7 246.9 462.4 248.0C461.2 249.1 459.9 250.1 458.6 251.2C457.3 252.2 455.9 253.2 454.6 254.2C453.3 255.2 451.9 256.1 450.5 257.1C449.2 258.0 447.8 258.9 446.4 259.8C444.9 260.7 443.5 261.5 442.1 262.4C440.7 263.2 439.2 264.1 437.8 264.9C436.3 265.7 434.9 266.5 433.4 267.4C432.0 268.2 430.5 269.0 429.1 269.8C427.6 270.6 426.1 271.4 424.7 272.2C423.2 273.0 421.8 273.9 420.3 274.7C418.9 275.5 417.4 276.3 415.9 277.1C414.5 277.8 413.0 278.6 411.5 279.4C410.0 280.2 408.6 280.9 407.1 281.7C405.6 282.5 404.1 283.2 402.6 284.0C401.1 284.7 399.7 285.5 398.2 286.2C396.7 287.0 395.2 287.7 393.7 288.5C392.2 289.2 390.7 289.9 389.2 290.6C387.7 291.3 386.2 292.1 384.7 292.8C383.2 293.5 381.6 294.2 380.1 294.9C378.6 295.5 377.1 296.2 375.6 296.9C374.1 297.6 372.5 298.3 371.0 299.0C369.5 299.6 368.0 300.3 366.4 301.0C364.9 301.7 363.4 302.4 361.9 303.0C360.4 303.7 358.8 304.4 357.3 305.1C355.8 305.8 354.3 306.5 352.8 307.1C351.2 307.8 349.7 308.5 348.2 309.2C346.7 309.9 345.2 310.6 343.6 311.3C342.1 311.9 340.6 312.6 339.1 313.3C337.6 314.0 336.0 314.7 334.5 315.3C333.0 316.0 331.5 316.7 330.0 317.4C328.4 318.1 326.9 318.8 325.4 319.5C323.9 320.2 322.4 320.9 320.9 321.6C319.4 322.3 317.9 323.1 316.4 323.8C314.9 324.6 313.4 325.3 311.9 326.1C310.5 326.8 309.0 327.6 307.5 328.3C306.0 329.1 304.5 329.9 303.0 330.6C301.6 331.4 300.1 332.1 298.6 332.9C297.1 333.6 295.6 334.4 294.1 335.1C292.6 335.8 291.1 336.6 289.6 337.3C288.1 338.0 286.6 338.7 285.1 339.4C283.6 340.1 282.0 340.8 280.5 341.4C279.0 342.1 277.4 342.7 275.9 343.3C274.4 344.0 272.8 344.6 271.2 345.1C269.7 345.7 268.1 346.3 266.5 346.8C265.0 347.4 263.4 347.9 261.8 348.5C260.2 349.0 258.6 349.5 257.1 350.0C255.5 350.5 253.9 351.0 252.3 351.5C250.7 351.9 249.1 352.4 247.5 352.8C245.9 353.3 244.3 353.7 242.7 354.1C241.0 354.6 239.4 354.9 237.8 355.3C236.2 355.7 234.6 356.0 232.9 356.3C231.3 356.6 229.6 356.9 228.0 357.1C226.4 357.4 224.7 357.6 223.1 357.8C221.4 357.9 219.7 358.1 218.1 358.2C216.4 358.3 214.8 358.4 213.1 358.4C211.4 358.5 209.8 358.5 208.1 358.5C206.5 358.5 204.8 358.5 203.1 358.4C201.5 358.4 199.8 358.3 198.2 358.1C196.5 358.0 194.9 357.8 193.2 357.6C191.6 357.3 190.0 357.0 188.4 356.7C186.7 356.4 185.1 356.0 183.5 355.6C181.9 355.1 180.3 354.7 178.8 354.1C177.2 353.6 175.6 353.1 174.1 352.4C172.5 351.8 171.0 351.2 169.5 350.5C168.0 349.8 166.5 349.0 165.1 348.2C163.6 347.5 162.2 346.6 160.8 345.8C159.4 344.9 158.0 344.0 156.7 343.0C155.3 342.0 154.0 341.0 152.8 339.9C151.6 338.8 150.4 337.7 149.2 336.5C148.1 335.3 147.0 334.1 145.9 332.8C144.9 331.5 143.9 330.2 142.9 328.9C142.0 327.5 141.1 326.1 140.2 324.7C139.4 323.3 138.5 321.8 137.7 320.4C136.9 318.9 136.2 317.5 135.4 316.0C134.7 314.5 133.9 313.0 133.2 311.5C132.4 310.0 131.7 308.5 131.0 307.0C130.2 305.5 129.5 304.0 128.7 302.6C128.0 301.1 127.3 299.6 126.5 298.1C125.8 296.6 125.1 295.1 124.3 293.6C123.6 292.1 122.9 290.6 122.2 289.1C121.4 287.6 120.7 286.1 120.0 284.6C119.3 283.0 118.7 281.5 118.0 280.0C117.3 278.5 116.7 276.9 116.0 275.4C115.4 273.9 114.8 272.3 114.2 270.7C113.6 269.2 113.1 267.6 112.5 266.0C112.0 264.5 111.5 262.9 110.9 261.3C110.4 259.7 109.9 258.2 109.3 256.6C108.8 255.0 108.3 253.4 107.7 251.9C107.2 250.3 106.6 248.7 106.0 247.2C105.4 245.6 104.9 244.0 104.3 242.5C103.7 240.9 103.1 239.3 102.6 237.8C102.0 236.2 101.4 234.6 100.9 233.1C100.3 231.5 99.7 229.9 99.2 228.4C98.7 226.8 98.2 225.2 97.7 223.6C97.2 222.0 96.8 220.4 96.4 218.8C96.0 217.2 95.6 215.6 95.3 213.9C95.0 212.3 94.7 210.7 94.4 209.0C94.2 207.4 94.0 205.8 93.8 204.1C93.6 202.4 93.4 200.8 93.3 199.1C93.1 197.5 93.0 195.8 92.9 194.1C92.8 192.5 92.7 190.8 92.7 189.2C92.6 187.5 92.6 185.8 92.6 184.2C92.6 182.5 92.6 180.8 92.6 179.2C92.6 177.5 92.7 175.8 92.7 174.2C92.8 172.5 92.9 170.8 93.0 169.2C93.1 167.5 93.2 165.9 93.4 164.2C93.5 162.5 93.7 160.9 93.9 159.2C94.0 157.6 94.3 155.9 94.5 154.3C94.8 152.7 95.0 151.0 95.4 149.4C95.7 147.7 96.0 146.1 96.4 144.5C96.8 142.9 97.2 141.3 97.6 139.7C98.0 138.0 98.5 136.4 98.9 134.8C99.4 133.3 99.9 131.7 100.4 130.1C100.9 128.5 101.4 126.9 102.0 125.3C102.5 123.7 103.0 122.2 103.6 120.6C104.1 119.0 104.7 117.5 105.3 115.9C105.8 114.3 106.4 112.7 106.9 111.2C107.5 109.6 108.1 108.1 108.7 106.5C109.3 105.0 109.9 103.4 110.6 101.9C111.2 100.4 111.9 98.9 112.6 97.4C113.4 95.9 114.1 94.4 114.9 92.9C115.7 91.4 116.5 90.0 117.3 88.5C118.1 87.1 118.9 85.7 119.7 84.2C120.5 82.7 121.3 81.3 122.1 79.8C122.8 78.3 123.6 76.8 124.3 75.3C125.0 73.8 125.7 72.3 126.3 70.8C126.9 69.3 127.5 67.7 128.0 66.1C128.6 64.6 129.3 62.5 129.7 61.4C130.1 60.3 130.1 60.2 130.3 59.5C130.6 58.9 130.8 58.3 131.0 57.6C131.2 57.0 131.5 56.4 131.7 55.8C131.9 55.1 132.2 54.3 132.3 53.9C132.5 53.4 132.6 53.2 132.7 52.9C132.8 52.6 132.9 52.2 133.0 52.0" stroke="#EFB936"/>
<path d="M152.0 105.8C152.3 105.7 153.2 105.2 153.8 105.0C154.4 104.7 155.0 104.4 155.6 104.1C156.2 103.9 156.8 103.6 157.4 103.3C158.1 103.0 158.7 102.6 159.3 102.6C159.9 102.5 160.6 102.8 161.1 103.2C161.6 103.6 161.8 104.3 162.3 104.8C162.7 105.3 163.2 105.8 163.7 106.2C164.2 106.6 164.8 106.9 165.4 107.3C166.0 107.6 166.6 107.9 167.1 108.2C167.7 108.6 168.3 108.9 168.9 109.2C169.5 109.5 170.1 109.8 170.7 110.1C171.3 110.4 171.9 110.7 172.4 111.1C173.0 111.4 173.6 111.7 174.2 112.0C174.8 112.4 175.3 112.7 175.9 113.1C176.5 113.4 177.0 113.8 177.6 114.1C178.2 114.5 178.7 114.8 179.3 115.2C179.9 115.5 180.4 115.9 181.0 116.3C181.6 116.6 182.1 117.0 182.7 117.3C183.2 117.7 183.8 118.1 184.3 118.4C184.9 118.8 185.5 119.2 186.0 119.5C186.6 119.9 187.1 120.3 187.7 120.6C188.2 121.0 188.8 121.4 189.3 121.7C189.9 122.1 190.5 122.5 191.0 122.9C191.6 123.2 192.1 123.6 192.7 124.0C193.2 124.4 193.8 124.7 194.3 125.1C194.8 125.5 195.4 125.9 195.9 126.3C196.5 126.7 197.0 127.0 197.6 127.4C198.1 127.8 198.7 128.2 199.2 128.6C199.7 129.0 200.3 129.4 200.8 129.7C201.4 130.1 201.9 130.5 202.5 130.9C203.0 131.3 203.5 131.7 204.1 132.1C204.6 132.5 205.2 132.9 205.7 133.3C206.2 133.7 206.7 134.1 207.2 134.5C207.8 135.0 208.3 135.4 208.8 135.8C209.3 136.2 209.8 136.7 210.3 137.1C210.8 137.5 211.3 137.9 211.8 138.4C212.4 138.8 212.9 139.2 213.4 139.7C213.9 140.1 214.4 140.5 214.9 141.0C215.4 141.4 215.9 141.9 216.4 142.3C216.9 142.8 217.4 143.2 217.9 143.7C218.3 144.1 218.8 144.6 219.3 145.0C219.8 145.5 220.3 145.9 220.8 146.4C221.3 146.8 221.7 147.3 222.2 147.8C222.7 148.2 223.2 148.7 223.6 149.2C224.1 149.7 224.6 150.1 225.0 150.6C225.5 151.1 225.9 151.6 226.3 152.1C226.8 152.7 227.2 153.2 227.6 153.7C228.0 154.2 228.4 154.8 228.8 155.3C229.1 155.9 229.5 156.4 229.8 157.0C230.2 157.6 230.5 158.2 230.7 158.8C231.0 159.4 231.3 160.0 231.5 160.6C231.7 161.3 231.9 161.9 232.1 162.6C232.2 163.2 232.4 163.9 232.5 164.5C232.7 165.2 232.8 165.8 232.9 166.5C233.1 167.1 233.2 167.8 233.3 168.4C233.4 169.1 233.5 169.7 233.6 170.4C233.7 171.1 233.8 171.7 233.9 172.4C234.0 173.0 234.1 173.7 234.2 174.4C234.4 175.0 234.5 175.7 234.6 176.3C234.7 177.0 234.8 177.6 234.9 178.3C235.0 179.0 235.1 179.6 235.2 180.3C235.3 180.9 235.3 181.6 235.4 182.3C235.4 182.9 235.5 183.6 235.5 184.3C235.5 184.9 235.6 185.6 235.6 186.3C235.6 186.9 235.6 187.6 235.5 188.3C235.5 188.9 235.4 189.6 235.3 190.2C235.1 190.9 235.0 191.6 234.8 192.2C234.7 192.8 234.5 193.5 234.2 194.1C234.0 194.7 233.7 195.3 233.4 195.9C233.1 196.5 232.8 197.1 232.5 197.7C232.2 198.3 231.9 198.9 231.6 199.5C231.2 200.1 230.9 200.6 230.6 201.2C230.2 201.8 229.9 202.3 229.5 202.9C229.1 203.4 228.7 204.0 228.3 204.5C227.9 205.0 227.5 205.5 227.0 206.0C226.6 206.5 226.1 207.0 225.7 207.5C225.2 208.0 224.7 208.5 224.2 208.9C223.8 209.4 223.3 209.8 222.8 210.3C222.3 210.8 221.8 211.2 221.3 211.6C220.8 212.1 220.3 212.5 219.8 213.0C219.3 213.4 218.8 213.8 218.3 214.3C217.8 214.7 217.3 215.1 216.8 215.5C216.2 216.0 215.7 216.4 215.2 216.8C214.7 217.2 214.1 217.6 213.6 218.0C213.1 218.4 212.5 218.8 212.0 219.2C211.4 219.6 210.9 219.9 210.3 220.3C209.8 220.7 209.2 221.1 208.7 221.4C208.1 221.8 207.5 222.1 207.0 222.5C206.4 222.8 205.8 223.1 205.2 223.4C204.6 223.8 204.0 224.1 203.4 224.4C202.8 224.6 202.2 224.9 201.6 225.2C201.0 225.4 200.4 225.7 199.8 225.9C199.2 226.2 198.5 226.4 197.9 226.6C197.3 226.8 196.6 227.0 196.0 227.2C195.3 227.4 194.7 227.5 194.0 227.7C193.4 227.8 192.7 227.9 192.1 228.0C191.4 228.1 190.8 228.2 190.1 228.3C189.4 228.3 188.8 228.3 188.1 228.3C187.4 228.2 186.8 228.1 186.1 228.0C185.5 227.8 184.8 227.6 184.2 227.4C183.6 227.2 182.9 227.0 182.3 226.7C181.7 226.4 181.1 226.2 180.5 225.9C179.9 225.6 179.3 225.3 178.7 225.1C178.1 224.8 177.5 224.5 176.9 224.2C176.3 223.9 175.7 223.7 175.1 223.4C174.5 223.1 173.9 222.8 173.3 222.4C172.7 222.1 172.1 221.8 171.5 221.5C171.0 221.1 170.4 220.8 169.8 220.4C169.3 220.0 168.7 219.7 168.2 219.3C167.7 218.9 167.1 218.5 166.6 218.0C166.1 217.6 165.6 217.2 165.1 216.8C164.6 216.3 164.1 215.9 163.6 215.4C163.1 214.9 162.7 214.5 162.2 214.0C161.7 213.5 161.3 213.0 160.8 212.6C160.3 212.1 159.9 211.6 159.5 211.1C159.0 210.6 158.6 210.0 158.2 209.5C157.8 209.0 157.4 208.5 157.0 207.9C156.6 207.4 156.2 206.8 155.8 206.3C155.5 205.7 155.1 205.2 154.8 204.6C154.4 204.0 154.1 203.5 153.8 202.9C153.5 202.3 153.2 201.7 152.9 201.1C152.6 200.5 152.3 199.9 152.1 199.3C151.8 198.6 151.6 198.0 151.3 197.4C151.1 196.8 150.9 196.1 150.7 195.5C150.6 194.8 150.4 194.2 150.3 193.5C150.1 192.9 150.0 192.2 149.9 191.6C149.8 190.9 149.7 190.3 149.6 189.6C149.5 188.9 149.4 188.3 149.3 187.6C149.2 187.0 149.2 186.3 149.1 185.6C149.0 185.0 148.9 184.3 148.8 183.6C148.8 183.0 148.7 182.3 148.7 181.7C148.7 181.0 148.8 180.3 148.9 179.7C149.0 179.0 149.1 178.3 149.2 177.7C149.3 177.0 149.4 176.4 149.6 175.7C149.7 175.1 149.8 174.4 150.0 173.8C150.2 173.1 150.4 172.5 150.6 171.9C150.9 171.3 151.2 170.6 151.5 170.1C151.8 169.5 152.2 168.9 152.6 168.4C153.0 167.9 153.5 167.4 153.9 166.9C154.4 166.5 154.9 166.0 155.5 165.6C156.0 165.2 156.5 164.8 157.0 164.4C157.6 164.0 158.1 163.6 158.7 163.2C159.2 162.9 159.8 162.5 160.4 162.2C160.9 161.9 161.5 161.5 162.1 161.2C162.7 160.9 163.3 160.6 163.9 160.2C164.5 159.9 165.0 159.6 165.6 159.3C166.2 159.0 166.8 158.6 167.4 158.3C167.9 157.9 168.5 157.6 169.1 157.2C169.6 156.9 170.2 156.5 170.7 156.1C171.3 155.7 171.8 155.3 172.3 154.9C172.8 154.5 173.4 154.1 173.9 153.7C174.4 153.3 174.9 152.9 175.5 152.4C176.0 152.0 176.5 151.6 177.0 151.2C177.5 150.8 178.0 150.3 178.5 149.9C179.1 149.5 179.6 149.0 180.1 148.6C180.6 148.2 181.1 147.7 181.6 147.3C182.1 146.9 182.6 146.5 183.1 146.0C183.6 145.6 184.1 145.1 184.6 144.6C185.0 144.2 185.4 143.6 185.9 143.1C186.3 142.7 186.8 142.2 187.4 141.8C187.9 141.4 188.5 141.0 189.0 140.7C189.6 140.3 190.2 140.0 190.8 139.7C191.4 139.4 192.0 139.1 192.6 138.8C193.2 138.6 193.8 138.3 194.4 138.0C195.0 137.7 195.6 137.4 196.2 137.2C196.8 136.9 197.4 136.6 198.0 136.3C198.6 136.1 199.2 135.8 199.8 135.5C200.5 135.2 201.1 134.9 201.7 134.7C202.3 134.4 202.9 134.1 203.4 133.8C204.0 133.5 204.6 133.2 205.2 132.8C205.8 132.5 206.4 132.2 207.0 131.9C207.5 131.5 208.1 131.2 208.7 130.9C209.3 130.5 209.8 130.2 210.4 129.8C211.0 129.5 211.5 129.1 212.1 128.8C212.7 128.4 213.2 128.1 213.8 127.7C214.4 127.3 214.9 127.0 215.5 126.6C216.0 126.2 216.2 126.2 217.1 125.5C218.1 124.8 219.8 123.6 221.2 122.6C222.5 121.6 223.9 120.6 225.2 119.6C226.5 118.6 227.8 117.6 229.2 116.5C230.5 115.5 231.8 114.5 233.1 113.5C234.4 112.4 235.7 111.4 237.0 110.3C238.3 109.3 239.6 108.2 240.8 107.1C242.1 106.1 243.4 105.0 244.7 104.0C246.0 102.9 247.3 101.8 248.6 100.8C249.9 99.7 251.1 98.7 252.4 97.7C253.7 96.6 255.1 95.6 256.4 94.5C257.7 93.5 259.0 92.5 260.3 91.5C261.6 90.4 262.9 89.4 264.3 88.4C265.6 87.4 266.9 86.4 268.2 85.4C269.6 84.4 270.9 83.4 272.2 82.4C273.6 81.4 274.9 80.4 276.3 79.4C277.6 78.4 278.9 77.4 280.3 76.5C281.7 75.5 283.0 74.5 284.4 73.6C285.8 72.7 287.1 71.7 288.5 70.8C289.9 69.9 291.4 69.1 292.8 68.2C294.2 67.4 295.7 66.6 297.1 65.8C298.6 65.0 300.1 64.2 301.6 63.5C303.1 62.8 304.6 62.1 306.1 61.4C307.6 60.8 309.2 60.1 310.7 59.5C312.3 58.9 313.8 58.3 315.4 57.8C317.0 57.2 318.5 56.7 320.1 56.2C321.7 55.7 323.3 55.2 324.9 54.8C326.5 54.3 328.1 53.9 329.7 53.5C331.4 53.1 333.0 52.7 334.6 52.3C336.2 52.0 337.9 51.6 339.5 51.3C341.1 51.0 342.8 50.7 344.4 50.4C346.0 50.1 347.7 49.8 349.3 49.6C351.0 49.3 352.6 49.1 354.3 48.8C355.9 48.6 357.6 48.4 359.2 48.2C360.9 48.1 362.5 47.9 364.2 47.8C365.8 47.7 367.5 47.6 369.2 47.6C370.8 47.5 372.5 47.5 374.1 47.6C375.8 47.7 377.4 47.8 379.1 47.9C380.7 48.1 382.4 48.3 384.0 48.6C385.6 48.9 387.3 49.2 388.9 49.5C390.5 49.8 392.2 50.2 393.8 50.6C395.4 51.0 397.0 51.4 398.6 51.8C400.2 52.3 401.8 52.8 403.4 53.2C405.0 53.7 406.6 54.2 408.2 54.8C409.7 55.3 411.3 55.9 412.9 56.4C414.4 57.0 416.0 57.6 417.5 58.2C419.1 58.9 420.6 59.5 422.1 60.2C423.6 60.8 425.2 61.5 426.7 62.2C428.2 62.9 429.7 63.7 431.2 64.4C432.6 65.2 434.1 66.0 435.6 66.8C437.0 67.6 438.5 68.4 439.9 69.2C441.3 70.1 442.8 70.9 444.2 71.8C445.6 72.7 447.0 73.6 448.3 74.6C449.7 75.5 451.1 76.5 452.4 77.4C453.8 78.4 455.1 79.4 456.4 80.4C457.8 81.4 459.1 82.5 460.4 83.5C461.7 84.5 463.0 85.6 464.2 86.6C465.5 87.7 466.8 88.8 468.0 89.9C469.3 91.0 470.5 92.1 471.7 93.2C472.9 94.4 474.1 95.6 475.2 96.8C476.4 98.0 477.5 99.2 478.5 100.5C479.6 101.8 480.6 103.1 481.6 104.4C482.5 105.7 483.5 107.1 484.4 108.5C485.3 109.9 486.1 111.3 486.9 112.8C487.8 114.2 488.5 115.7 489.3 117.2C490.1 118.6 490.8 120.1 491.6 121.6C492.3 123.1 493.0 124.6 493.7 126.1C494.4 127.6 495.1 129.2 495.8 130.7C496.4 132.2 497.1 133.7 497.8 135.3C498.4 136.8 499.1 138.3 499.7 139.9C500.4 141.4 501.0 142.9 501.6 144.5C502.2 146.0 502.8 147.6 503.4 149.2C503.9 150.7 504.5 152.3 505.0 153.9C505.5 155.5 506.0 157.0 506.4 158.6C506.9 160.2 507.3 161.9 507.6 163.5C508.0 165.1 508.3 166.7 508.5 168.4C508.8 170.0 509.0 171.6 509.1 173.3C509.3 174.9 509.4 176.6 509.4 178.3C509.5 179.9 509.5 181.6 509.5 183.2C509.5 184.9 509.4 186.6 509.4 188.2C509.3 189.9 509.2 191.5 509.0 193.2C508.9 194.8 508.7 196.5 508.5 198.1C508.2 199.8 508.0 201.4 507.7 203.1C507.4 204.7 507.0 206.3 506.6 207.9C506.2 209.5 505.8 211.1 505.3 212.7C504.8 214.3 504.2 215.8 503.6 217.4C503.0 218.9 502.4 220.5 501.7 222.0C501.0 223.5 500.3 225.0 499.5 226.5C498.8 227.9 498.0 229.4 497.2 230.8C496.3 232.3 495.5 233.7 494.6 235.1C493.7 236.5 492.7 237.8 491.8 239.2C490.8 240.5 489.8 241.8 488.7 243.1C487.7 244.4 486.6 245.7 485.4 246.9C484.3 248.1 483.2 249.3 482.0 250.4C480.8 251.6 479.6 252.7 478.3 253.8C477.1 254.9 475.8 256.0 474.5 257.0C473.2 258.0 471.9 259.1 470.5 260.0C469.2 261.0 467.8 262.0 466.5 262.9C465.1 263.9 463.7 264.8 462.3 265.7C460.9 266.6 459.5 267.5 458.1 268.4C456.7 269.2 455.2 270.1 453.8 270.9C452.3 271.7 450.9 272.5 449.4 273.3C448.0 274.1 446.5 274.9 445.0 275.7C443.5 276.5 442.0 277.2 440.6 277.9C439.1 278.7 437.6 279.4 436.1 280.1C434.6 280.8 433.1 281.6 431.5 282.3C430.0 283.0 428.5 283.7 427.0 284.4C425.5 285.1 424.0 285.8 422.5 286.5C421.0 287.2 419.4 287.9 417.9 288.6C416.4 289.3 414.9 290.0 413.4 290.7C411.9 291.4 410.4 292.2 408.9 292.9C407.4 293.6 405.9 294.4 404.4 295.1C402.9 295.8 401.4 296.6 400.0 297.3C398.5 298.1 397.0 298.8 395.5 299.6C394.0 300.3 392.5 301.0 391.0 301.8C389.5 302.5 388.0 303.2 386.5 303.9C385.0 304.7 383.5 305.4 382.0 306.1C380.5 306.8 378.9 307.5 377.4 308.2C375.9 308.8 374.4 309.5 372.9 310.2C371.3 310.9 369.8 311.5 368.3 312.2C366.8 312.9 365.2 313.5 363.7 314.1C362.1 314.8 360.6 315.4 359.1 316.0C357.5 316.7 356.0 317.3 354.4 317.9C352.9 318.5 351.3 319.1 349.8 319.8C348.2 320.4 346.7 321.0 345.1 321.6C343.6 322.2 342.0 322.8 340.5 323.5C338.9 324.1 337.4 324.7 335.8 325.3C334.3 325.9 332.7 326.6 331.2 327.2C329.6 327.8 328.1 328.4 326.5 329.0C325.0 329.5 323.4 330.1 321.8 330.7C320.3 331.2 318.7 331.8 317.1 332.3C315.5 332.9 314.0 333.4 312.4 333.9C310.8 334.4 309.2 334.9 307.6 335.5C306.0 336.0 304.5 336.5 302.9 337.0C301.3 337.5 299.7 338.1 298.1 338.6C296.6 339.1 295.0 339.6 293.4 340.2C291.8 340.7 290.2 341.2 288.6 341.7C287.0 342.2 285.5 342.7 283.9 343.2C282.3 343.7 280.7 344.2 279.1 344.7C277.5 345.2 275.9 345.6 274.3 346.1C272.7 346.6 271.1 347.1 269.5 347.5C267.9 348.0 266.3 348.4 264.7 348.9C263.1 349.3 261.5 349.7 259.9 350.2C258.2 350.6 256.6 351.0 255.0 351.4C253.4 351.7 251.8 352.1 250.1 352.4C248.5 352.8 246.9 353.1 245.2 353.4C243.6 353.6 241.9 353.9 240.3 354.1C238.7 354.3 237.0 354.5 235.3 354.6C233.7 354.7 232.0 354.9 230.4 354.9C228.7 355.0 227.0 355.1 225.4 355.1C223.7 355.1 222.1 355.1 220.4 355.0C218.7 355.0 217.1 354.9 215.4 354.8C213.7 354.7 212.1 354.5 210.4 354.4C208.8 354.2 207.1 354.0 205.5 353.8C203.8 353.6 202.2 353.3 200.6 353.0C198.9 352.7 197.3 352.4 195.7 352.0C194.1 351.7 192.4 351.3 190.8 350.9C189.2 350.4 187.6 350.0 186.0 349.5C184.4 349.0 182.9 348.5 181.3 348.0C179.7 347.4 178.2 346.8 176.6 346.2C175.1 345.6 173.6 344.9 172.1 344.2C170.6 343.5 169.1 342.8 167.6 342.0C166.1 341.2 164.7 340.4 163.2 339.6C161.8 338.7 160.4 337.9 159.0 337.0C157.6 336.1 156.2 335.1 154.9 334.2C153.5 333.2 152.1 332.3 150.8 331.3C149.5 330.3 148.2 329.2 146.9 328.2C145.6 327.1 144.3 326.1 143.1 325.0C141.8 323.9 140.6 322.8 139.4 321.6C138.2 320.5 137.0 319.3 135.8 318.1C134.7 316.9 133.6 315.7 132.5 314.4C131.4 313.2 130.3 311.9 129.3 310.6C128.2 309.3 127.2 308.0 126.3 306.7C125.3 305.3 124.3 303.9 123.5 302.6C122.6 301.2 121.7 299.7 120.9 298.3C120.1 296.8 119.3 295.4 118.6 293.9C117.9 292.4 117.3 290.9 116.7 289.3C116.0 287.8 115.5 286.2 115.0 284.7C114.4 283.1 113.9 281.5 113.5 279.9C113.0 278.3 112.6 276.7 112.1 275.1C111.7 273.5 111.3 271.9 110.9 270.3C110.4 268.6 110.0 267.0 109.6 265.4C109.2 263.8 108.8 262.2 108.4 260.6C108.0 259.0 107.5 257.3 107.1 255.7C106.7 254.1 106.2 252.5 105.8 250.9C105.3 249.3 104.8 247.7 104.4 246.1C103.9 244.5 103.4 242.9 102.9 241.3C102.4 239.8 101.9 238.2 101.3 236.6C100.8 235.0 100.2 233.5 99.7 231.9C99.1 230.3 98.5 228.8 98.0 227.2C97.4 225.6 96.9 224.1 96.3 222.5C95.8 220.9 95.3 219.3 94.8 217.7C94.3 216.1 93.8 214.5 93.4 212.9C93.0 211.3 92.6 209.7 92.3 208.1C92.0 206.5 91.7 204.8 91.4 203.2C91.1 201.6 90.9 199.9 90.7 198.3C90.5 196.6 90.3 195.0 90.2 193.3C90.0 191.6 89.9 190.0 89.9 188.3C89.8 186.7 89.7 185.0 89.7 183.3C89.7 181.7 89.7 180.0 89.8 178.3C89.8 176.7 89.9 175.0 90.0 173.4C90.1 171.7 90.2 170.0 90.3 168.4C90.5 166.7 90.7 165.1 90.9 163.4C91.0 161.8 91.3 160.1 91.5 158.5C91.8 156.8 92.0 155.2 92.3 153.5C92.6 151.9 93.0 150.3 93.3 148.7C93.7 147.0 94.1 145.4 94.5 143.8C94.9 142.2 95.4 140.6 95.8 139.0C96.3 137.4 96.8 135.8 97.3 134.2C97.8 132.6 98.4 131.1 99.0 129.5C99.5 127.9 100.1 126.4 100.7 124.9C101.4 123.3 102.0 121.8 102.7 120.3C103.4 118.8 104.1 117.3 104.9 115.8C105.6 114.3 106.4 112.8 107.2 111.4C108.0 109.9 108.8 108.5 109.6 107.0C110.5 105.6 111.3 104.2 112.2 102.7C113.0 101.3 113.9 99.9 114.7 98.4C115.6 97.0 116.4 95.6 117.3 94.1C118.1 92.7 119.0 91.3 119.9 89.9C120.8 88.5 121.7 87.1 122.6 85.7C123.5 84.3 124.5 82.9 125.4 81.6C126.4 80.2 127.4 78.9 128.4 77.5C129.4 76.2 130.4 74.9 131.4 73.6C132.4 72.3 133.5 71.0 134.5 69.7C135.5 68.4 136.6 67.1 137.6 65.8C138.7 64.5 140.0 62.7 140.7 61.8C141.4 60.9 141.5 60.7 141.9 60.2C142.3 59.7 142.6 59.1 143.0 58.6C143.4 58.0 143.8 57.5 144.2 56.9C144.5 56.4 145.0 55.7 145.3 55.3C145.6 54.9 145.7 54.6 145.9 54.4C146.0 54.2 146.1 54.2 146.1 54.1" stroke="#8B4499"/>
<path d="M193.3 181.4C193.4 181.1 193.8 180.2 194.0 179.5C194.3 178.9 194.5 178.3 194.8 177.7C195.1 177.1 195.4 176.5 195.7 175.9C196.1 175.4 196.5 174.8 197.0 174.4C197.4 173.9 197.9 173.4 198.5 173.0C199.0 172.6 199.5 172.2 200.1 171.8C200.6 171.4 201.2 171.1 201.7 170.7C202.3 170.3 202.8 170.0 203.4 169.6C204.0 169.3 204.6 169.0 205.2 168.8C205.8 168.5 206.4 168.2 207.0 168.0C207.6 167.7 208.2 167.4 208.8 167.0C209.4 166.7 209.9 166.3 210.4 165.8C210.9 165.4 211.4 165.0 211.9 164.5C212.4 164.0 212.8 163.6 213.3 163.1C213.8 162.6 214.2 162.1 214.7 161.6C215.1 161.1 215.6 160.6 216.0 160.1C216.5 159.6 216.9 159.1 217.4 158.6C217.8 158.1 218.2 157.6 218.7 157.1C219.1 156.6 219.5 156.1 219.9 155.6C220.3 155.0 220.7 154.5 221.1 154.0C221.5 153.4 221.9 152.9 222.2 152.3C222.6 151.8 223.0 151.2 223.3 150.6C223.6 150.0 223.9 149.5 224.3 148.9C224.6 148.3 224.9 147.7 225.2 147.1C225.6 146.6 225.9 146.0 226.3 145.4C226.6 144.8 227.0 144.3 227.3 143.7C227.7 143.2 228.1 142.6 228.5 142.1C228.9 141.5 229.3 141.0 229.7 140.5C230.1 139.9 230.5 139.4 230.9 138.9C231.3 138.4 231.7 137.8 232.1 137.3C232.5 136.8 232.9 136.2 233.3 135.7C233.7 135.2 234.1 134.7 234.5 134.1C235.0 133.6 235.1 133.5 235.8 132.5C236.5 131.6 237.7 129.9 238.7 128.5C239.7 127.2 240.7 125.8 241.7 124.5C242.7 123.2 243.7 121.8 244.7 120.5C245.7 119.2 246.8 117.9 247.8 116.6C248.9 115.3 249.9 114.0 251.0 112.7C252.0 111.4 253.1 110.2 254.1 108.9C255.2 107.6 256.2 106.3 257.2 105.0C258.3 103.7 259.3 102.3 260.3 101.0C261.3 99.7 262.3 98.4 263.3 97.0C264.3 95.7 265.3 94.4 266.3 93.1C267.4 91.8 268.4 90.5 269.5 89.2C270.5 87.9 271.6 86.7 272.7 85.4C273.9 84.2 275.0 83.0 276.2 81.8C277.3 80.6 278.5 79.4 279.7 78.3C280.9 77.1 282.1 76.0 283.4 74.9C284.6 73.8 285.9 72.7 287.2 71.7C288.5 70.6 289.8 69.6 291.1 68.6C292.4 67.6 293.8 66.7 295.2 65.8C296.6 64.9 298.0 64.0 299.4 63.1C300.8 62.3 302.3 61.5 303.8 60.8C305.2 60.0 306.7 59.3 308.3 58.6C309.8 57.9 311.3 57.2 312.8 56.6C314.4 56.0 315.9 55.4 317.5 54.8C319.0 54.2 320.6 53.6 322.2 53.1C323.8 52.6 325.3 52.1 326.9 51.6C328.5 51.1 330.1 50.7 331.8 50.3C333.4 49.9 335.0 49.5 336.6 49.1C338.2 48.8 339.9 48.5 341.5 48.2C343.1 47.9 344.8 47.6 346.4 47.4C348.1 47.2 349.7 46.9 351.4 46.8C353.0 46.6 354.7 46.4 356.3 46.3C358.0 46.2 359.7 46.1 361.3 46.1C363.0 46.1 364.6 46.1 366.3 46.2C367.9 46.2 369.6 46.4 371.2 46.5C372.9 46.7 374.5 46.9 376.2 47.2C377.8 47.4 379.4 47.7 381.1 48.0C382.7 48.3 384.3 48.7 386.0 49.0C387.6 49.4 389.2 49.8 390.8 50.2C392.4 50.6 394.0 51.1 395.6 51.6C397.2 52.1 398.8 52.6 400.3 53.2C401.9 53.7 403.4 54.4 404.9 55.0C406.4 55.7 407.9 56.4 409.4 57.2C410.9 57.9 412.3 58.7 413.8 59.5C415.2 60.4 416.6 61.2 418.0 62.2C419.4 63.1 420.8 64.0 422.1 65.0C423.5 65.9 424.8 66.9 426.1 67.9C427.4 69.0 428.7 70.0 430.0 71.1C431.3 72.2 432.5 73.3 433.8 74.4C435.0 75.5 436.2 76.6 437.4 77.8C438.6 78.9 439.8 80.1 441.0 81.3C442.1 82.5 443.3 83.7 444.4 84.9C445.5 86.1 446.7 87.4 447.8 88.6C448.9 89.9 449.9 91.1 451.0 92.4C452.1 93.7 453.2 94.9 454.2 96.2C455.2 97.5 456.3 98.8 457.3 100.2C458.3 101.5 459.3 102.8 460.3 104.2C461.3 105.5 462.2 106.9 463.1 108.3C464.1 109.6 465.0 111.0 465.8 112.4C466.7 113.9 467.6 115.3 468.4 116.7C469.2 118.2 470.0 119.7 470.7 121.1C471.5 122.6 472.2 124.1 472.9 125.6C473.6 127.1 474.3 128.7 474.9 130.2C475.5 131.7 476.2 133.3 476.7 134.8C477.3 136.4 477.9 138.0 478.4 139.5C479.0 141.1 479.5 142.7 479.9 144.3C480.4 145.9 480.9 147.5 481.3 149.1C481.7 150.7 482.1 152.3 482.5 153.9C482.9 155.6 483.2 157.2 483.6 158.8C483.9 160.4 484.2 162.1 484.4 163.7C484.7 165.4 484.9 167.0 485.1 168.7C485.3 170.3 485.5 172.0 485.6 173.6C485.8 175.3 485.9 176.9 486.0 178.6C486.1 180.3 486.1 181.9 486.1 183.6C486.1 185.2 486.1 186.9 486.0 188.6C486.0 190.2 485.9 191.9 485.7 193.5C485.6 195.2 485.4 196.8 485.1 198.5C484.9 200.1 484.6 201.7 484.3 203.4C484.0 205.0 483.6 206.6 483.2 208.2C482.8 209.8 482.4 211.4 481.9 213.0C481.4 214.6 480.8 216.2 480.2 217.7C479.7 219.3 479.0 220.8 478.3 222.3C477.6 223.8 476.9 225.3 476.1 226.7C475.3 228.2 474.5 229.6 473.6 231.0C472.8 232.5 471.9 233.9 471.0 235.2C470.0 236.6 469.1 238.0 468.1 239.3C467.1 240.7 466.1 242.0 465.1 243.3C464.1 244.6 463.0 245.9 462.0 247.2C460.9 248.5 459.8 249.7 458.7 251.0C457.6 252.2 456.5 253.4 455.3 254.6C454.1 255.8 453.0 257.0 451.8 258.1C450.5 259.2 449.3 260.3 448.0 261.4C446.8 262.5 445.4 263.5 444.1 264.5C442.8 265.5 441.4 266.4 440.0 267.3C438.6 268.2 437.2 269.1 435.8 269.9C434.4 270.7 432.9 271.5 431.4 272.2C429.9 273.0 428.4 273.7 426.9 274.4C425.4 275.1 423.9 275.8 422.4 276.5C420.9 277.2 419.4 277.9 417.9 278.6C416.3 279.3 414.8 280.0 413.3 280.7C411.8 281.4 410.3 282.1 408.8 282.8C407.3 283.5 405.8 284.1 404.2 284.8C402.7 285.5 401.2 286.1 399.6 286.7C398.1 287.4 396.5 288.0 395.0 288.6C393.4 289.2 391.9 289.8 390.3 290.3C388.8 290.9 387.2 291.5 385.6 292.0C384.0 292.6 382.4 293.1 380.9 293.6C379.3 294.1 377.7 294.6 376.1 295.0C374.5 295.5 372.9 296.0 371.3 296.4C369.7 296.8 368.0 297.2 366.4 297.6C364.8 298.0 363.2 298.3 361.6 298.7C359.9 299.0 358.3 299.3 356.7 299.6C355.0 299.9 353.4 300.2 351.7 300.5C350.1 300.7 348.4 300.9 346.8 301.1C345.1 301.3 343.5 301.5 341.8 301.7C340.2 301.8 338.5 302.0 336.8 302.1C335.2 302.2 333.5 302.3 331.8 302.4C330.2 302.5 328.5 302.5 326.9 302.6C325.2 302.6 323.5 302.6 321.9 302.6C320.2 302.6 318.5 302.6 316.9 302.6C315.2 302.6 313.5 302.5 311.9 302.5C310.2 302.4 308.5 302.4 306.9 302.3C305.2 302.2 303.5 302.2 301.9 302.1C300.2 302.0 298.6 301.9 296.9 301.8C295.2 301.7 293.6 301.6 291.9 301.4C290.2 301.3 288.6 301.2 286.9 301.0C285.3 300.9 283.6 300.7 282.0 300.5C280.3 300.3 278.6 300.1 277.0 299.9C275.4 299.6 273.7 299.4 272.1 299.1C270.4 298.8 268.8 298.5 267.2 298.2C265.5 297.9 263.9 297.5 262.3 297.2C260.6 296.8 259.0 296.5 257.4 296.1C255.7 295.8 254.1 295.4 252.5 295.0C250.9 294.6 249.3 294.2 247.6 293.8C246.0 293.4 244.4 293.0 242.8 292.6C241.2 292.2 239.6 291.8 238.0 291.3C236.4 290.9 234.8 290.4 233.2 289.9C231.6 289.4 230.0 288.9 228.4 288.4C226.8 287.9 225.2 287.4 223.7 286.8C222.1 286.3 220.5 285.8 218.9 285.2C217.4 284.6 215.8 284.1 214.2 283.5C212.7 283.0 211.1 282.4 209.5 281.9C208.0 281.3 206.4 280.7 204.8 280.2C203.2 279.6 201.7 279.0 200.1 278.5C198.5 277.9 197.0 277.4 195.4 276.8C193.8 276.3 192.3 275.7 190.7 275.1C189.1 274.6 187.5 274.0 186.0 273.5C184.4 272.9 182.8 272.3 181.3 271.8C179.7 271.2 178.2 270.6 176.6 270.0C175.1 269.4 173.5 268.7 172.0 268.1C170.5 267.4 169.0 266.7 167.5 266.0C166.0 265.3 164.5 264.5 163.0 263.7C161.6 262.9 160.1 262.1 158.7 261.3C157.3 260.4 156.0 259.5 154.6 258.5C153.3 257.5 152.0 256.5 150.8 255.4C149.6 254.3 148.4 253.1 147.3 251.9C146.2 250.7 145.2 249.5 144.1 248.2C143.1 246.9 142.1 245.5 141.2 244.2C140.3 242.8 139.4 241.4 138.5 240.0C137.6 238.6 136.7 237.2 135.9 235.7C135.1 234.3 134.2 232.8 133.4 231.4C132.6 229.9 131.9 228.5 131.1 227.0C130.4 225.5 129.7 224.0 129.0 222.5C128.3 220.9 127.7 219.4 127.1 217.9C126.5 216.3 125.9 214.8 125.4 213.2C124.8 211.6 124.4 210.0 123.9 208.4C123.5 206.8 123.0 205.2 122.7 203.6C122.3 202.0 122.0 200.4 121.7 198.7C121.4 197.1 121.1 195.5 121.0 193.8C120.8 192.2 120.6 190.5 120.6 188.9C120.5 187.2 120.4 185.6 120.4 183.9C120.5 182.2 120.5 180.6 120.6 178.9C120.7 177.3 120.8 175.6 121.0 173.9C121.1 172.3 121.3 170.6 121.5 169.0C121.7 167.3 122.0 165.7 122.3 164.1C122.5 162.4 122.9 160.8 123.2 159.2C123.6 157.6 124.0 155.9 124.4 154.3C124.9 152.8 125.4 151.2 125.9 149.6C126.5 148.1 127.1 146.6 127.8 145.0C128.4 143.5 129.1 142.0 129.8 140.6C130.6 139.1 131.4 137.6 132.3 136.3C133.2 134.9 134.6 133.3 135.4 132.4C136.1 131.5 136.3 131.5 136.8 131.0C137.3 130.6 137.8 130.2 138.3 129.7C138.8 129.3 139.3 128.9 139.9 128.5C140.4 128.1 140.9 127.7 141.5 127.3C142.1 127.0 142.6 126.6 143.2 126.3C143.8 126.1 144.6 125.8 145.1 126.0C145.6 126.2 145.6 127.3 146.1 127.7C146.5 128.2 147.2 128.5 147.8 128.8C148.4 129.1 149.0 129.3 149.6 129.6C150.2 129.8 150.8 130.1 151.5 130.3C152.1 130.6 152.7 130.8 153.3 131.1C153.9 131.3 154.6 131.5 155.2 131.8C155.8 132.0 156.4 132.3 157.0 132.5C157.7 132.8 158.3 133.0 158.9 133.3C159.5 133.6 160.1 133.9 160.7 134.2C161.3 134.4 161.9 134.7 162.5 134.9C163.2 135.2 163.8 135.4 164.4 135.6C165.0 135.8 165.7 136.0 166.3 136.3C166.9 136.5 167.6 136.7 168.2 136.9C168.8 137.1 169.5 137.3 170.1 137.5C170.7 137.8 171.4 138.0 172.0 138.2C172.6 138.4 173.2 138.7 173.9 138.9C174.5 139.1 175.1 139.4 175.7 139.6C176.3 139.9 176.9 140.2 177.5 140.5C178.1 140.8 178.7 141.2 179.2 141.6C179.8 141.9 180.3 142.4 180.8 142.8C181.3 143.2 181.8 143.6 182.4 144.0C182.9 144.4 183.5 144.7 184.1 145.1C184.6 145.4 185.2 145.8 185.8 146.1C186.4 146.4 186.9 146.8 187.5 147.1C188.1 147.4 188.7 147.7 189.3 148.1C189.9 148.4 190.5 148.7 191.0 149.0C191.6 149.3 192.2 149.6 192.8 150.0C193.4 150.3 194.0 150.6 194.5 150.9C195.1 151.3 195.7 151.6 196.3 151.9C196.9 152.2 197.5 152.5 198.1 152.8C198.7 153.0 199.3 153.3 199.9 153.6C200.5 153.9 201.1 154.2 201.7 154.5C202.2 154.9 202.8 155.3 203.3 155.7C203.8 156.1 204.3 156.6 204.7 157.1C205.2 157.6 205.6 158.1 205.9 158.7C206.3 159.2 206.6 159.8 206.9 160.4C207.3 161.0 207.5 161.6 207.8 162.2C208.1 162.8 208.4 163.4 208.6 164.0C208.9 164.7 209.1 165.3 209.3 165.9C209.6 166.5 209.8 167.2 210.0 167.8C210.2 168.4 210.4 169.1 210.6 169.7C210.8 170.4 210.9 171.0 211.1 171.6C211.3 172.3 211.4 172.9 211.5 173.6C211.7 174.2 211.8 174.9 211.9 175.6C212.0 176.2 212.1 176.9 212.1 177.6C212.2 178.2 212.2 178.9 212.2 179.5C212.3 180.2 212.3 180.9 212.3 181.5C212.2 182.2 212.2 182.9 212.1 183.5C212.0 184.2 211.9 184.9 211.8 185.5C211.6 186.2 211.4 186.8 211.1 187.4C210.9 188.0 210.6 188.6 210.2 189.2C209.8 189.7 209.4 190.3 209.0 190.8C208.5 191.2 208.0 191.7 207.5 192.1C207.0 192.5 206.4 192.8 205.7 193.0C205.1 193.2 204.4 193.3 203.8 193.4C203.1 193.4 202.4 193.4 201.8 193.3C201.1 193.3 200.4 193.2 199.8 193.0C199.2 192.8 198.6 192.5 198.0 192.2C197.4 191.8 196.9 191.4 196.4 190.9C195.9 190.5 195.5 190.0 195.1 189.4C194.7 188.9 194.3 188.4 194.0 187.8C193.8 187.2 193.6 186.5 193.5 185.8C193.4 185.2 193.4 184.5 193.3 183.9C193.3 183.2 193.3 182.2 193.3 181.9C193.3 181.5 193.3 181.9 193.3 181.9C193.3 181.8 193.3 181.5 193.3 181.4" stroke="#85B445"/>
<path d="M130.2 141.5C130.5 141.3 131.4 140.8 131.9 140.5C132.5 140.2 133.1 139.8 133.7 139.5C134.3 139.3 134.9 138.9 135.5 138.8C136.2 138.7 136.9 138.7 137.5 138.9C138.1 139.1 138.6 139.7 139.1 140.1C139.6 140.5 140.1 141.0 140.6 141.4C141.1 141.8 141.7 142.2 142.3 142.5C142.9 142.8 143.5 143.1 144.1 143.3C144.7 143.6 145.3 143.9 145.9 144.1C146.6 144.4 147.2 144.6 147.8 144.9C148.4 145.1 149.0 145.4 149.7 145.6C150.3 145.9 150.9 146.1 151.5 146.3C152.1 146.6 152.8 146.8 153.4 147.1C154.0 147.3 154.6 147.6 155.3 147.8C155.9 148.0 156.5 148.3 157.1 148.5C157.7 148.7 158.4 149.0 159.0 149.2C159.6 149.5 160.2 149.7 160.9 149.9C161.5 150.2 162.1 150.4 162.7 150.7C163.3 151.0 163.9 151.3 164.5 151.6C165.1 151.8 165.7 152.2 166.3 152.5C166.9 152.8 167.4 153.1 168.0 153.5C168.6 153.8 169.1 154.2 169.7 154.5C170.3 154.9 170.8 155.3 171.4 155.6C172.0 155.9 172.6 156.3 173.1 156.6C173.7 156.9 174.3 157.2 174.9 157.5C175.5 157.8 176.1 158.1 176.7 158.4C177.3 158.7 177.9 159.0 178.5 159.3C179.1 159.7 179.7 160.0 180.2 160.4C180.7 160.7 181.3 161.2 181.7 161.6C182.2 162.1 182.6 162.6 183.0 163.2C183.4 163.7 183.7 164.3 183.9 164.9C184.2 165.5 184.4 166.2 184.7 166.8C184.9 167.4 185.2 168.0 185.4 168.7C185.6 169.3 185.8 170.0 185.9 170.6C186.1 171.2 186.2 171.9 186.4 172.5C186.5 173.2 186.7 173.8 186.8 174.5C187.0 175.1 187.2 175.8 187.4 176.4C187.6 177.1 187.8 177.7 188.0 178.3C188.2 179.0 188.3 179.6 188.3 180.3C188.3 180.9 188.2 181.6 188.1 182.3C188.0 182.9 187.8 183.6 187.5 184.2C187.3 184.8 186.9 185.4 186.5 185.9C186.1 186.4 185.6 186.9 185.1 187.3C184.6 187.7 183.9 188.3 183.4 188.3C182.8 188.3 182.1 187.8 181.7 187.3C181.3 186.9 181.0 186.2 180.8 185.6C180.6 184.9 180.5 184.3 180.4 183.6C180.4 182.9 180.4 182.3 180.4 181.6C180.4 180.9 180.5 180.3 180.6 179.6C180.7 179.0 180.9 178.3 181.1 177.7C181.3 177.1 181.6 176.4 181.9 175.9C182.3 175.3 182.8 174.6 183.3 174.5C183.9 174.3 184.6 174.6 185.2 174.8C185.9 175.0 186.5 175.3 187.0 175.6C187.6 175.9 188.1 176.5 188.7 176.7C189.3 176.9 190.0 177.0 190.6 176.8C191.2 176.6 191.8 176.1 192.3 175.7C192.8 175.3 193.3 174.8 193.7 174.3C194.1 173.8 194.5 173.3 194.9 172.7C195.2 172.1 195.5 171.5 195.8 170.9C196.1 170.4 196.4 169.8 196.8 169.2C197.1 168.6 197.4 168.0 197.8 167.5C198.1 166.9 198.5 166.4 198.9 165.8C199.3 165.2 199.6 164.7 200.0 164.1C200.4 163.6 200.8 163.1 201.2 162.5C201.6 162.0 202.0 161.4 202.4 160.9C202.8 160.4 203.2 159.8 203.6 159.3C204.0 158.8 204.4 158.3 204.9 157.8C205.3 157.3 205.8 156.9 206.3 156.4C206.8 156.0 207.3 155.5 207.8 155.1C208.3 154.6 208.8 154.2 209.2 153.7C209.7 153.2 210.1 152.7 210.6 152.2C211.0 151.6 211.3 151.1 211.7 150.5C212.1 150.0 212.4 149.4 212.7 148.8C213.1 148.3 213.4 147.7 213.8 147.1C214.2 146.6 214.5 146.0 214.9 145.5C215.3 144.9 215.7 144.4 216.2 143.9C216.6 143.4 217.0 142.9 217.5 142.4C217.9 141.9 218.4 141.4 218.8 140.9C219.3 140.4 219.7 139.9 220.2 139.5C220.6 139.0 221.1 138.5 221.6 138.0C222.0 137.5 222.5 137.1 223.0 136.6C223.4 136.1 223.9 135.6 224.4 135.2C224.8 134.7 225.0 134.6 225.8 133.8C226.6 132.9 228.2 131.4 229.4 130.3C230.6 129.1 231.8 128.0 233.0 126.8C234.2 125.7 235.4 124.5 236.6 123.4C237.9 122.3 239.1 121.1 240.3 120.0C241.5 118.9 242.8 117.8 244.0 116.6C245.2 115.5 246.5 114.4 247.7 113.3C248.9 112.2 250.2 111.0 251.4 109.9C252.6 108.8 253.8 107.6 255.1 106.5C256.3 105.4 257.5 104.2 258.7 103.1C260.0 102.0 261.2 100.9 262.4 99.7C263.7 98.6 264.9 97.5 266.2 96.5C267.4 95.4 268.7 94.3 270.0 93.3C271.4 92.3 272.7 91.4 274.1 90.4C275.4 89.5 276.8 88.6 278.3 87.7C279.7 86.8 281.1 86.0 282.6 85.2C284.0 84.4 285.5 83.6 287.0 82.9C288.4 82.1 289.9 81.4 291.4 80.7C293.0 80.0 294.5 79.3 296.0 78.6C297.5 78.0 299.1 77.3 300.6 76.7C302.2 76.1 303.7 75.6 305.3 75.0C306.9 74.5 308.5 74.0 310.1 73.5C311.6 73.0 313.3 72.6 314.9 72.2C316.5 71.8 318.1 71.4 319.7 71.1C321.3 70.7 323.0 70.4 324.6 70.1C326.3 69.8 327.9 69.6 329.6 69.4C331.2 69.2 332.9 69.0 334.5 68.8C336.2 68.6 337.8 68.5 339.5 68.3C341.1 68.2 342.8 68.1 344.5 68.0C346.1 67.9 347.8 67.9 349.5 67.8C351.1 67.8 352.8 67.7 354.4 67.7C356.1 67.8 357.8 67.8 359.4 67.9C361.1 67.9 362.8 68.0 364.4 68.2C366.1 68.3 367.7 68.5 369.4 68.7C371.0 68.9 372.6 69.2 374.3 69.4C375.9 69.7 377.5 70.1 379.1 70.5C380.8 70.8 382.4 71.3 384.0 71.7C385.6 72.2 387.2 72.7 388.7 73.2C390.3 73.7 391.9 74.3 393.4 74.9C395.0 75.5 396.5 76.1 398.1 76.7C399.6 77.4 401.1 78.0 402.6 78.8C404.1 79.5 405.6 80.2 407.1 81.0C408.6 81.7 410.0 82.5 411.5 83.3C412.9 84.1 414.4 85.0 415.8 85.8C417.2 86.7 418.6 87.6 420.0 88.5C421.4 89.4 422.8 90.3 424.2 91.3C425.5 92.2 426.9 93.2 428.2 94.2C429.6 95.2 430.9 96.2 432.2 97.2C433.5 98.2 434.8 99.3 436.1 100.3C437.3 101.4 438.6 102.5 439.8 103.6C441.0 104.8 442.2 105.9 443.4 107.1C444.6 108.3 445.7 109.5 446.9 110.7C448.0 111.9 449.1 113.2 450.2 114.4C451.2 115.7 452.3 117.0 453.3 118.3C454.4 119.6 455.4 120.9 456.4 122.2C457.4 123.6 458.3 124.9 459.3 126.3C460.2 127.7 461.1 129.1 462.0 130.5C462.9 131.9 463.7 133.3 464.5 134.8C465.3 136.2 466.0 137.7 466.7 139.2C467.4 140.7 468.1 142.2 468.7 143.8C469.3 145.3 469.8 146.9 470.4 148.4C470.9 150.0 471.4 151.6 471.8 153.2C472.3 154.8 472.7 156.4 473.1 158.0C473.5 159.6 473.9 161.3 474.2 162.9C474.5 164.5 474.8 166.1 475.1 167.8C475.3 169.4 475.6 171.1 475.7 172.7C475.9 174.4 476.1 176.0 476.1 177.7C476.2 179.3 476.3 181.0 476.3 182.7C476.3 184.3 476.2 186.0 476.2 187.6C476.1 189.3 476.0 190.9 475.8 192.6C475.7 194.2 475.5 195.9 475.2 197.5C475.0 199.2 474.8 200.8 474.5 202.5C474.2 204.1 473.9 205.7 473.5 207.3C473.1 209.0 472.7 210.6 472.2 212.2C471.8 213.8 471.3 215.3 470.7 216.9C470.2 218.5 469.6 220.0 469.0 221.6C468.4 223.1 467.7 224.6 467.0 226.1C466.3 227.6 465.5 229.1 464.7 230.5C463.9 232.0 463.1 233.4 462.2 234.8C461.3 236.2 460.4 237.6 459.4 238.9C458.4 240.3 457.4 241.6 456.4 242.9C455.4 244.2 454.3 245.5 453.2 246.8C452.1 248.0 451.0 249.2 449.9 250.5C448.8 251.7 447.6 252.9 446.4 254.0C445.2 255.2 444.0 256.3 442.8 257.4C441.5 258.5 440.3 259.6 439.0 260.7C437.7 261.7 436.4 262.8 435.1 263.8C433.8 264.8 432.4 265.8 431.1 266.7C429.7 267.7 428.3 268.6 426.9 269.5C425.5 270.4 424.1 271.3 422.7 272.1C421.3 273.0 419.8 273.8 418.4 274.6C416.9 275.4 415.4 276.2 414.0 277.0C412.5 277.8 411.0 278.5 409.5 279.2C408.0 280.0 406.5 280.7 405.0 281.4C403.5 282.1 402.0 282.8 400.5 283.5C398.9 284.2 397.4 284.9 395.9 285.6C394.4 286.3 392.9 286.9 391.3 287.6C389.8 288.3 388.3 288.9 386.7 289.6C385.2 290.2 383.7 290.8 382.1 291.5C380.6 292.1 379.0 292.7 377.5 293.3C375.9 294.0 374.4 294.6 372.8 295.2C371.3 295.8 369.7 296.4 368.2 297.1C366.6 297.7 365.1 298.3 363.6 298.9C362.0 299.5 360.5 300.2 358.9 300.8C357.4 301.4 355.8 302.0 354.3 302.6C352.7 303.3 351.2 303.9 349.6 304.5C348.1 305.1 346.5 305.7 345.0 306.3C343.4 306.8 341.8 307.4 340.3 308.0C338.7 308.5 337.1 309.1 335.5 309.6C334.0 310.2 332.4 310.7 330.8 311.2C329.2 311.7 327.6 312.1 326.0 312.6C324.4 313.0 322.8 313.4 321.2 313.8C319.6 314.2 317.9 314.6 316.3 314.9C314.7 315.2 313.0 315.5 311.4 315.8C309.8 316.1 308.1 316.4 306.5 316.7C304.8 317.0 303.2 317.2 301.5 317.5C299.9 317.8 298.3 318.0 296.6 318.3C295.0 318.6 293.3 318.8 291.7 319.1C290.0 319.4 288.4 319.6 286.7 319.9C285.1 320.2 283.4 320.4 281.8 320.7C280.2 321.0 278.5 321.2 276.9 321.5C275.2 321.7 273.6 322.0 271.9 322.2C270.3 322.4 268.6 322.6 267.0 322.9C265.3 323.1 263.7 323.3 262.0 323.5C260.3 323.7 258.7 323.8 257.0 324.0C255.4 324.2 253.7 324.3 252.1 324.5C250.4 324.6 248.7 324.7 247.1 324.8C245.4 324.9 243.7 325.0 242.1 325.0C240.4 325.1 238.7 325.1 237.1 325.2C235.4 325.2 233.8 325.2 232.1 325.2C230.4 325.1 228.8 325.1 227.1 325.0C225.4 324.9 223.8 324.8 222.1 324.7C220.5 324.6 218.8 324.4 217.2 324.2C215.5 324.0 213.9 323.8 212.2 323.6C210.6 323.3 208.9 323.0 207.3 322.7C205.7 322.4 204.0 322.1 202.4 321.7C200.8 321.3 199.2 320.9 197.6 320.5C196.0 320.1 194.4 319.6 192.8 319.1C191.2 318.7 189.6 318.2 188.0 317.6C186.4 317.1 184.9 316.5 183.3 315.9C181.8 315.3 180.3 314.6 178.8 313.9C177.2 313.3 175.8 312.5 174.3 311.8C172.8 311.0 171.4 310.2 169.9 309.4C168.5 308.5 167.1 307.6 165.7 306.7C164.3 305.8 163.0 304.9 161.6 303.9C160.3 302.9 159.0 301.9 157.7 300.8C156.4 299.8 155.1 298.7 153.8 297.7C152.6 296.6 151.3 295.5 150.1 294.3C148.9 293.2 147.7 292.1 146.5 290.9C145.3 289.7 144.1 288.5 143.0 287.3C141.9 286.1 140.8 284.9 139.7 283.6C138.6 282.4 137.5 281.1 136.5 279.8C135.5 278.5 134.4 277.1 133.5 275.8C132.5 274.5 131.6 273.1 130.7 271.7C129.8 270.3 128.9 268.9 128.1 267.4C127.3 266.0 126.5 264.5 125.8 263.0C125.0 261.6 124.4 260.0 123.7 258.5C123.0 257.0 122.4 255.5 121.8 253.9C121.2 252.4 120.6 250.8 120.0 249.2C119.4 247.7 118.9 246.1 118.3 244.5C117.7 243.0 117.2 241.4 116.6 239.8C116.1 238.3 115.5 236.7 115.0 235.1C114.4 233.6 113.8 232.0 113.3 230.4C112.7 228.8 112.2 227.3 111.7 225.7C111.1 224.1 110.6 222.5 110.1 220.9C109.7 219.4 109.2 217.8 108.8 216.1C108.4 214.5 108.1 212.9 107.8 211.3C107.4 209.7 107.2 208.0 106.9 206.4C106.7 204.7 106.5 203.1 106.3 201.4C106.1 199.8 105.9 198.1 105.8 196.5C105.6 194.8 105.5 193.1 105.4 191.5C105.3 189.8 105.2 188.2 105.1 186.5C105.0 184.8 105.0 183.2 104.9 181.5C104.9 179.8 104.9 178.2 104.9 176.5C105.0 174.9 105.0 173.2 105.1 171.5C105.2 169.9 105.3 168.2 105.4 166.5C105.5 164.9 105.7 163.2 105.8 161.6C106.0 159.9 106.2 158.3 106.5 156.6C106.7 155.0 107.0 153.3 107.3 151.7C107.7 150.1 108.0 148.5 108.4 146.9C108.8 145.2 109.2 143.6 109.7 142.0C110.2 140.5 110.7 138.9 111.2 137.3C111.8 135.7 112.4 134.2 113.0 132.6C113.6 131.1 114.2 129.5 114.9 128.0C115.5 126.5 116.2 125.0 117.0 123.5C117.7 122.0 118.5 120.5 119.2 119.0C120.0 117.6 120.8 116.1 121.7 114.7C122.5 113.2 123.4 111.8 124.2 110.4C125.1 109.0 126.0 107.6 126.9 106.2C127.8 104.8 128.7 103.4 129.6 102.0C130.5 100.6 131.4 99.2 132.3 97.8C133.2 96.4 134.1 95.0 135.0 93.6C135.9 92.2 136.8 90.8 137.7 89.3C138.6 87.9 139.5 86.5 140.4 85.1C141.3 83.7 142.2 82.3 143.1 80.9C144.0 79.6 144.9 78.2 145.9 76.8C146.8 75.4 147.8 74.0 148.7 72.7C149.7 71.3 150.7 70.0 151.7 68.6C152.6 67.3 153.6 65.9 154.6 64.6C155.6 63.3 156.6 62.0 157.7 60.6C158.7 59.3 160.0 57.6 160.7 56.7C161.5 55.8 161.6 55.7 162.0 55.1C162.4 54.6 162.8 54.1 163.2 53.6C163.6 53.0 164.0 52.5 164.5 52.0C164.9 51.5 165.3 50.9 165.7 50.4C166.1 49.9 166.6 49.2 166.9 48.9C167.2 48.5 167.4 48.3 167.6 48.1C167.7 47.8 167.9 47.6 168.0 47.5" stroke="#5FC4F0"/>
<path d="M168.4 127.7C168.7 127.6 169.6 127.1 170.2 126.9C170.8 126.7 171.5 126.4 172.1 126.3C172.8 126.2 173.5 126.2 174.1 126.3C174.8 126.3 175.4 126.5 176.1 126.7C176.7 126.9 177.3 127.2 177.9 127.5C178.5 127.7 179.2 128.0 179.8 128.2C180.4 128.4 181.0 128.7 181.7 128.9C182.3 129.1 182.9 129.3 183.6 129.5C184.2 129.7 184.8 129.9 185.5 130.1C186.1 130.4 186.7 130.6 187.3 130.8C188.0 131.1 188.6 131.3 189.2 131.6C189.8 131.9 190.4 132.2 190.9 132.6C191.5 132.9 192.0 133.3 192.6 133.7C193.1 134.1 193.7 134.4 194.3 134.8C194.8 135.1 195.4 135.4 196.0 135.7C196.6 136.0 197.2 136.3 197.8 136.6C198.4 136.9 199.0 137.2 199.6 137.5C200.2 137.8 200.8 138.1 201.4 138.4C202.0 138.7 202.6 139.0 203.2 139.3C203.8 139.6 204.4 139.9 205.0 140.2C205.6 140.5 206.2 140.8 206.8 141.1C207.4 141.4 207.9 141.7 208.5 142.0C209.1 142.3 209.7 142.6 210.3 142.9C210.9 143.2 211.5 143.5 212.1 143.8C212.7 144.1 213.3 144.4 213.9 144.7C214.5 144.9 215.1 145.2 215.7 145.5C216.3 145.8 216.9 146.1 217.5 146.3C218.2 146.6 218.8 146.8 219.4 147.1C220.0 147.3 220.6 147.6 221.3 147.8C221.9 148.0 222.5 148.3 223.1 148.5C223.8 148.7 224.4 149.0 225.0 149.2C225.6 149.4 226.2 149.7 226.8 150.0C227.5 150.3 228.0 150.6 228.6 150.9C229.2 151.2 229.8 151.6 230.3 152.0C230.8 152.4 231.3 152.9 231.7 153.4C232.2 153.9 232.6 154.4 233.1 154.9C233.5 155.4 233.9 155.9 234.3 156.4C234.7 157.0 235.1 157.5 235.5 158.1C235.8 158.6 236.2 159.2 236.5 159.8C236.8 160.4 237.1 161.0 237.3 161.6C237.6 162.2 237.8 162.8 238.1 163.5C238.3 164.1 238.5 164.7 238.7 165.4C238.9 166.0 239.1 166.6 239.2 167.3C239.4 167.9 239.6 168.6 239.7 169.2C239.9 169.9 240.0 170.5 240.1 171.2C240.3 171.8 240.4 172.5 240.5 173.2C240.6 173.8 240.7 174.5 240.8 175.1C240.8 175.8 240.9 176.5 241.0 177.1C241.0 177.8 241.1 178.5 241.1 179.1C241.2 179.8 241.2 180.5 241.2 181.1C241.2 181.8 241.2 182.5 241.2 183.1C241.2 183.8 241.2 184.5 241.1 185.1C241.1 185.8 241.0 186.4 241.0 187.1C240.9 187.8 240.8 188.4 240.7 189.1C240.6 189.7 240.4 190.4 240.3 191.0C240.1 191.7 239.9 192.3 239.6 192.9C239.4 193.6 239.1 194.2 238.8 194.8C238.5 195.3 238.1 195.9 237.8 196.5C237.4 197.0 237.1 197.6 236.7 198.1C236.2 198.7 235.8 199.2 235.4 199.7C234.9 200.1 234.4 200.6 233.9 201.0C233.4 201.5 232.9 201.9 232.3 202.2C231.8 202.6 231.2 202.9 230.6 203.2C230.0 203.6 229.4 203.8 228.8 204.1C228.1 204.3 227.5 204.5 226.9 204.6C226.2 204.8 225.5 204.9 224.9 204.9C224.2 205.0 223.5 204.9 222.9 204.9C222.2 204.8 221.6 204.7 220.9 204.6C220.2 204.5 219.6 204.4 218.9 204.2C218.3 204.0 217.7 203.8 217.0 203.6C216.4 203.4 215.8 203.1 215.2 202.8C214.6 202.5 214.0 202.2 213.4 201.9C212.9 201.5 212.3 201.1 211.8 200.7C211.2 200.4 210.7 199.9 210.2 199.5C209.7 199.1 209.1 198.7 208.6 198.3C208.1 197.9 207.6 197.4 207.1 197.0C206.6 196.5 206.1 196.1 205.6 195.6C205.1 195.2 204.6 194.7 204.2 194.3C203.7 193.8 203.2 193.3 202.8 192.9C202.3 192.4 201.8 191.9 201.4 191.4C201.0 190.9 200.5 190.4 200.1 189.9C199.7 189.3 199.3 188.8 199.0 188.2C198.6 187.7 198.2 187.1 197.9 186.5C197.6 185.9 197.3 185.3 197.1 184.7C196.9 184.1 196.7 183.4 196.6 182.7C196.5 182.1 196.5 181.4 196.5 180.8C196.6 180.1 196.6 179.4 196.8 178.8C196.9 178.1 197.1 177.5 197.3 176.8C197.4 176.2 197.7 175.6 197.9 174.9C198.1 174.3 198.4 173.7 198.7 173.1C198.9 172.5 199.2 171.9 199.5 171.3C199.8 170.7 200.2 170.1 200.5 169.6C200.9 169.0 201.2 168.4 201.6 167.9C202.0 167.3 202.4 166.8 202.9 166.3C203.3 165.8 203.8 165.3 204.3 164.9C204.8 164.4 205.3 164.0 205.8 163.6C206.3 163.1 206.8 162.7 207.3 162.3C207.9 161.9 208.4 161.5 208.9 161.1C209.5 160.7 210.0 160.3 210.6 159.9C211.1 159.5 211.6 159.1 212.2 158.8C212.7 158.4 213.3 158.0 213.8 157.6C214.4 157.3 214.9 156.9 215.5 156.5C216.0 156.1 216.6 155.8 217.1 155.4C217.7 155.0 218.2 154.6 218.8 154.2C219.3 153.8 219.8 153.4 220.3 153.0C220.8 152.5 221.3 152.1 221.7 151.6C222.2 151.1 222.6 150.6 223.1 150.1C223.5 149.6 223.9 149.0 224.3 148.5C224.7 148.0 225.1 147.5 225.5 146.9C225.9 146.4 226.4 145.9 226.8 145.4C227.2 144.8 227.6 144.3 228.1 143.8C228.5 143.3 228.9 142.8 229.4 142.3C229.8 141.8 230.2 141.3 230.7 140.8C231.1 140.3 231.5 139.8 232.0 139.3C232.4 138.8 232.8 138.3 233.3 137.8C233.7 137.3 234.1 136.8 234.6 136.3C235.0 135.8 235.5 135.3 235.9 134.8C236.4 134.3 236.5 134.1 237.3 133.3C238.0 132.4 239.5 130.8 240.7 129.6C241.8 128.4 242.9 127.2 244.1 126.0C245.2 124.8 246.4 123.6 247.5 122.4C248.7 121.2 249.9 120.0 251.0 118.8C252.2 117.6 253.3 116.4 254.5 115.1C255.6 113.9 256.8 112.7 257.9 111.5C259.1 110.3 260.2 109.1 261.4 107.9C262.5 106.7 263.7 105.6 264.9 104.4C266.1 103.2 267.3 102.1 268.5 101.0C269.7 99.8 271.0 98.8 272.3 97.7C273.5 96.7 274.9 95.7 276.2 94.7C277.5 93.7 278.9 92.7 280.3 91.8C281.7 90.9 283.1 90.0 284.5 89.2C285.9 88.3 287.4 87.5 288.8 86.7C290.3 86.0 291.8 85.2 293.3 84.6C294.8 83.9 296.3 83.3 297.9 82.8C299.4 82.2 301.0 81.8 302.6 81.4C304.2 81.0 305.8 80.7 307.5 80.4C309.1 80.2 310.7 80.0 312.4 79.8C314.0 79.7 315.7 79.6 317.3 79.6C319.0 79.6 320.6 79.6 322.3 79.7C323.9 79.8 325.6 79.9 327.2 80.1C328.9 80.3 330.5 80.6 332.1 80.9C333.8 81.2 335.4 81.6 337.0 82.0C338.5 82.4 340.1 82.9 341.7 83.5C343.2 84.1 344.8 84.7 346.3 85.3C347.8 86.0 349.3 86.7 350.7 87.5C352.2 88.3 353.7 89.1 355.1 89.9C356.5 90.8 357.9 91.7 359.3 92.6C360.7 93.5 362.1 94.4 363.4 95.4C364.7 96.4 366.1 97.4 367.3 98.5C368.6 99.5 369.9 100.6 371.1 101.7C372.4 102.8 373.6 103.9 374.7 105.1C375.9 106.3 377.0 107.5 378.2 108.7C379.3 110.0 380.4 111.2 381.4 112.5C382.5 113.8 383.5 115.1 384.5 116.4C385.5 117.7 386.5 119.1 387.5 120.4C388.4 121.8 389.4 123.2 390.3 124.5C391.2 125.9 392.1 127.3 393.0 128.8C393.9 130.2 394.7 131.6 395.6 133.0C396.4 134.5 397.2 135.9 398.0 137.4C398.8 138.8 399.6 140.3 400.3 141.8C401.0 143.3 401.8 144.8 402.4 146.3C403.1 147.8 403.7 149.4 404.3 150.9C404.9 152.5 405.5 154.0 406.0 155.6C406.5 157.2 407.0 158.8 407.4 160.4C407.9 162.0 408.3 163.6 408.7 165.2C409.0 166.8 409.4 168.5 409.7 170.1C410.0 171.7 410.2 173.4 410.4 175.0C410.6 176.6 410.8 178.3 410.8 179.9C410.9 181.6 410.9 183.2 410.8 184.9C410.8 186.5 410.6 188.1 410.4 189.8C410.2 191.4 409.8 193.0 409.5 194.6C409.1 196.2 408.6 197.7 408.0 199.3C407.5 200.8 406.8 202.3 406.1 203.8C405.4 205.2 404.6 206.7 403.7 208.1C402.9 209.5 401.9 210.8 401.0 212.1C400.0 213.5 398.9 214.8 397.9 216.0C396.8 217.3 395.7 218.6 394.6 219.8C393.5 221.0 392.4 222.3 391.2 223.5C390.1 224.7 388.9 225.8 387.7 227.0C386.5 228.2 385.3 229.3 384.1 230.5C382.9 231.6 381.6 232.7 380.4 233.8C379.2 234.9 377.9 236.0 376.6 237.1C375.4 238.2 374.1 239.3 372.9 240.4C371.6 241.5 370.3 242.5 369.0 243.6C367.7 244.6 366.4 245.7 365.1 246.7C363.8 247.8 362.5 248.8 361.2 249.8C359.9 250.9 358.6 251.9 357.3 252.9C355.9 253.9 354.6 254.9 353.3 255.9C352.0 256.9 350.6 257.9 349.3 258.9C347.9 259.9 346.6 260.9 345.3 261.9C343.9 262.9 342.6 263.8 341.2 264.8C339.8 265.8 338.5 266.8 337.1 267.7C335.8 268.7 334.4 269.6 333.0 270.6C331.7 271.5 330.3 272.5 328.9 273.4C327.5 274.3 326.2 275.3 324.8 276.2C323.4 277.1 321.9 278.0 320.5 278.8C319.1 279.7 317.7 280.6 316.3 281.4C314.8 282.3 313.4 283.1 311.9 283.9C310.5 284.8 309.1 285.6 307.6 286.4C306.2 287.2 304.7 288.0 303.2 288.8C301.8 289.6 300.3 290.4 298.8 291.1C297.3 291.8 295.8 292.5 294.3 293.2C292.8 293.9 291.3 294.6 289.7 295.3C288.2 295.9 286.7 296.6 285.1 297.2C283.6 297.9 282.1 298.5 280.5 299.1C279.0 299.8 277.4 300.4 275.9 301.0C274.3 301.6 272.8 302.1 271.2 302.7C269.6 303.3 268.0 303.8 266.5 304.3C264.9 304.8 263.3 305.3 261.7 305.7C260.1 306.2 258.5 306.6 256.9 307.0C255.2 307.4 253.6 307.7 252.0 308.0C250.3 308.3 248.7 308.6 247.1 308.8C245.4 309.1 243.8 309.3 242.1 309.4C240.5 309.6 238.8 309.7 237.2 309.8C235.5 309.8 233.8 309.8 232.2 309.8C230.5 309.8 228.9 309.7 227.2 309.6C225.6 309.5 223.9 309.4 222.2 309.2C220.6 309.0 219.0 308.7 217.3 308.5C215.7 308.2 214.1 307.9 212.4 307.5C210.8 307.1 209.2 306.7 207.7 306.2C206.1 305.7 204.5 305.2 203.0 304.6C201.5 303.9 200.0 303.3 198.5 302.6C197.0 301.8 195.5 301.0 194.1 300.2C192.6 299.4 191.2 298.5 189.8 297.7C188.4 296.8 187.0 295.9 185.6 294.9C184.3 294.0 182.9 293.1 181.5 292.1C180.2 291.1 178.8 290.2 177.5 289.2C176.2 288.1 174.9 287.1 173.6 286.0C172.4 285.0 171.1 283.9 169.9 282.7C168.7 281.6 167.6 280.4 166.4 279.2C165.3 278.0 164.2 276.7 163.2 275.5C162.2 274.2 161.2 272.8 160.2 271.5C159.3 270.1 158.4 268.7 157.6 267.3C156.7 265.9 155.9 264.4 155.1 263.0C154.3 261.5 153.5 260.1 152.8 258.6C152.0 257.1 151.2 255.6 150.5 254.1C149.7 252.6 149.0 251.1 148.2 249.7C147.5 248.2 146.8 246.7 146.0 245.2C145.3 243.7 144.6 242.2 143.8 240.7C143.1 239.2 142.4 237.7 141.7 236.2C141.0 234.6 140.3 233.1 139.7 231.6C139.0 230.1 138.4 228.5 137.7 227.0C137.1 225.5 136.5 223.9 135.9 222.4C135.3 220.8 134.7 219.2 134.1 217.7C133.6 216.1 133.0 214.5 132.5 213.0C131.9 211.4 131.4 209.8 130.9 208.2C130.5 206.6 130.0 205.0 129.6 203.4C129.2 201.8 128.8 200.2 128.4 198.6C128.1 197.0 127.8 195.3 127.6 193.7C127.4 192.1 127.2 190.4 127.1 188.8C126.9 187.1 126.9 185.5 126.8 183.8C126.8 182.1 126.8 180.5 126.9 178.8C126.9 177.2 127.0 175.5 127.1 173.8C127.2 172.2 127.4 170.5 127.6 168.9C127.8 167.2 128.0 165.6 128.3 164.0C128.6 162.3 128.9 160.7 129.3 159.1C129.6 157.5 130.0 155.8 130.5 154.3C130.9 152.7 131.4 151.1 132.0 149.5C132.5 147.9 133.1 146.4 133.7 144.9C134.3 143.3 134.9 141.8 135.6 140.3C136.3 138.7 137.0 137.3 137.8 135.8C138.6 134.3 139.8 132.5 140.4 131.5C141.0 130.5 141.1 130.4 141.5 129.8C141.9 129.3 142.3 128.8 142.7 128.2C143.1 127.7 143.5 127.2 143.9 126.6C144.3 126.1 144.7 125.6 145.2 125.1C145.6 124.6 146.0 124.0 146.4 123.5C146.8 123.0 147.2 122.5 147.6 121.9C148.1 121.4 148.5 120.9 148.9 120.4C149.3 119.9 149.7 119.4 150.2 118.8C150.6 118.3 151.0 117.8 151.4 117.3C151.8 116.8 152.3 116.3 152.7 115.7C153.1 115.2 153.5 114.7 154.0 114.2C154.4 113.7 154.8 113.2 155.2 112.7C155.7 112.1 156.1 111.6 156.5 111.1C156.9 110.6 157.4 110.1 157.8 109.6C158.2 109.1 158.6 108.5 159.0 108.0C159.5 107.5 159.9 107.0 160.3 106.5C160.7 106.0 161.1 105.4 161.6 104.9C162.0 104.4 162.4 103.9 162.8 103.4C163.2 102.8 163.7 102.3 164.1 101.8C164.5 101.3 164.9 100.8 165.3 100.2C165.7 99.7 166.2 99.2 166.6 98.7C167.0 98.2 167.4 97.6 167.8 97.1C168.2 96.6 168.6 96.1 169.1 95.5C169.5 95.0 169.9 94.5 170.3 94.0C170.7 93.5 171.1 92.9 171.5 92.4C172.0 91.9 172.4 91.4 172.8 90.8C173.2 90.3 173.6 89.8 174.0 89.3C174.5 88.8 174.9 88.2 175.3 87.7C175.7 87.2 176.2 86.5 176.5 86.1C176.8 85.8 177.0 85.5 177.1 85.4C177.3 85.2 177.2 85.3 177.2 85.3" stroke="#AB2C44"/>
<path d="M147.0 120.8C147.3 120.9 148.3 121.2 148.9 121.4C149.6 121.5 150.2 121.7 150.8 121.9C151.5 122.1 152.1 122.3 152.8 122.5C153.4 122.7 154.0 122.9 154.7 123.1C155.3 123.2 156.0 123.4 156.6 123.6C157.2 123.8 157.9 124.1 158.5 124.3C159.1 124.5 159.8 124.7 160.4 124.9C161.0 125.1 161.6 125.3 162.3 125.6C162.9 125.8 163.5 126.0 164.2 126.2C164.8 126.4 165.4 126.7 166.0 126.9C166.7 127.1 167.3 127.3 167.9 127.6C168.6 127.8 169.2 128.0 169.8 128.2C170.4 128.5 171.1 128.7 171.7 128.9C172.3 129.1 173.0 129.3 173.6 129.6C174.2 129.8 174.8 130.0 175.5 130.2C176.1 130.4 176.7 130.7 177.4 130.9C178.0 131.1 178.6 131.3 179.2 131.5C179.9 131.8 180.5 132.0 181.1 132.2C181.8 132.4 182.4 132.7 183.0 132.9C183.6 133.1 184.3 133.3 184.9 133.5C185.5 133.8 186.2 134.0 186.8 134.2C187.4 134.4 188.0 134.7 188.7 134.9C189.3 135.1 189.9 135.3 190.6 135.5C191.2 135.7 191.9 135.9 192.5 136.1C193.1 136.3 193.7 136.5 194.4 136.8C195.0 137.0 195.6 137.2 196.2 137.5C196.8 137.7 197.5 138.0 198.1 138.3C198.7 138.5 199.3 138.8 199.9 139.0C200.5 139.3 201.1 139.6 201.8 139.8C202.4 140.1 203.0 140.4 203.6 140.7C204.2 140.9 204.8 141.2 205.4 141.5C206.0 141.8 206.6 142.1 207.2 142.4C207.8 142.7 208.4 143.0 209.0 143.3C209.6 143.6 210.2 143.9 210.7 144.3C211.3 144.6 211.8 145.0 212.3 145.4C212.9 145.8 213.3 146.3 213.8 146.8C214.2 147.3 214.6 147.9 214.9 148.5C215.3 149.0 215.6 149.6 215.9 150.2C216.2 150.8 216.5 151.4 216.8 152.0C217.0 152.6 217.4 153.2 217.6 153.8C217.9 154.4 218.2 155.0 218.5 155.6C218.7 156.2 219.0 156.8 219.2 157.5C219.5 158.1 219.7 158.7 220.0 159.3C220.2 159.9 220.4 160.6 220.7 161.2C220.9 161.8 221.1 162.5 221.3 163.1C221.6 163.7 221.8 164.3 222.0 165.0C222.2 165.6 222.4 166.2 222.6 166.9C222.8 167.5 223.0 168.2 223.2 168.8C223.4 169.4 223.5 170.1 223.7 170.7C223.9 171.4 224.0 172.0 224.1 172.7C224.3 173.3 224.4 174.0 224.5 174.6C224.7 175.3 224.8 176.0 224.9 176.6C225.0 177.3 225.1 177.9 225.1 178.6C225.2 179.3 225.3 179.9 225.3 180.6C225.4 181.2 225.4 181.9 225.4 182.6C225.4 183.2 225.4 183.9 225.3 184.6C225.3 185.2 225.2 185.9 225.1 186.6C224.9 187.2 224.8 187.9 224.5 188.5C224.3 189.1 224.0 189.7 223.7 190.3C223.3 190.9 223.0 191.4 222.5 191.9C222.1 192.4 221.6 192.9 221.1 193.3C220.6 193.7 220.0 194.1 219.4 194.4C218.8 194.7 218.2 194.9 217.5 195.0C216.9 195.2 216.2 195.2 215.6 195.3C214.9 195.4 214.2 195.4 213.6 195.4C212.9 195.4 212.2 195.3 211.6 195.3C210.9 195.2 210.2 195.1 209.6 195.0C208.9 194.9 208.3 194.7 207.6 194.5C207.0 194.3 206.3 194.2 205.7 193.9C205.1 193.7 204.5 193.4 203.9 193.1C203.3 192.8 202.7 192.5 202.2 192.1C201.7 191.6 201.2 191.2 200.8 190.7C200.4 190.2 200.0 189.6 199.6 189.0C199.3 188.4 199.0 187.8 198.8 187.2C198.5 186.6 198.3 185.9 198.2 185.3C198.1 184.7 198.0 184.0 197.9 183.3C197.9 182.7 197.9 182.0 197.9 181.3C197.9 180.7 198.0 180.0 198.1 179.3C198.1 178.7 198.2 178.0 198.3 177.3C198.4 176.7 198.5 176.0 198.7 175.4C198.9 174.7 199.1 174.1 199.3 173.5C199.6 172.9 199.9 172.3 200.2 171.7C200.5 171.1 200.9 170.6 201.3 170.0C201.7 169.5 202.1 168.9 202.5 168.4C202.9 167.9 203.4 167.4 203.8 166.9C204.2 166.4 204.7 165.9 205.2 165.5C205.6 165.0 206.1 164.5 206.6 164.1C207.1 163.6 207.6 163.2 208.1 162.7C208.6 162.3 209.1 161.9 209.7 161.5C210.2 161.1 210.8 160.7 211.3 160.3C211.8 160.0 212.4 159.6 213.0 159.2C213.5 158.8 214.1 158.5 214.6 158.1C215.2 157.7 215.7 157.3 216.3 157.0C216.8 156.6 217.4 156.2 217.9 155.8C218.5 155.4 219.0 155.1 219.6 154.7C220.1 154.3 220.7 154.0 221.2 153.6C221.8 153.2 222.3 152.9 222.9 152.5C223.4 152.1 224.0 151.7 224.5 151.3C225.1 151.0 225.6 150.6 226.2 150.2C226.7 149.8 227.2 149.4 227.8 149.0C228.3 148.6 228.9 148.3 229.4 147.9C230.0 147.5 230.5 147.1 231.1 146.7C231.6 146.3 232.1 145.9 232.7 145.5C233.2 145.1 233.7 144.7 234.3 144.3C234.8 143.9 235.3 143.5 235.9 143.1C236.4 142.7 236.9 142.3 237.4 141.9C237.9 141.4 238.4 141.0 238.9 140.6C239.5 140.1 240.0 139.7 240.5 139.3C240.9 138.8 241.4 138.4 241.9 137.9C242.4 137.5 242.9 137.0 243.4 136.6C243.9 136.1 244.4 135.6 244.9 135.2C245.3 134.7 245.8 134.3 246.3 133.8C246.8 133.3 247.3 132.9 247.7 132.4C248.2 132.0 248.4 131.8 249.2 131.0C250.0 130.2 251.6 128.7 252.8 127.5C254.0 126.4 255.1 125.2 256.3 124.0C257.5 122.9 258.7 121.7 259.9 120.5C261.1 119.4 262.3 118.2 263.5 117.0C264.7 115.9 265.8 114.7 267.0 113.5C268.2 112.4 269.5 111.2 270.7 110.1C271.9 108.9 273.1 107.8 274.3 106.7C275.5 105.6 276.8 104.4 278.0 103.3C279.3 102.2 280.5 101.1 281.8 100.0C283.0 98.9 284.3 97.9 285.6 96.8C286.9 95.8 288.2 94.8 289.5 93.8C290.9 92.8 292.2 91.8 293.6 90.9C295.0 89.9 296.4 89.0 297.8 88.2C299.2 87.3 300.6 86.5 302.1 85.7C303.6 84.9 305.1 84.2 306.6 83.5C308.1 82.8 309.6 82.1 311.1 81.5C312.6 80.8 314.2 80.2 315.8 79.7C317.3 79.1 318.9 78.6 320.5 78.2C322.1 77.7 323.7 77.3 325.3 76.9C326.9 76.5 328.6 76.2 330.2 75.9C331.8 75.6 333.5 75.3 335.1 75.1C336.8 74.9 338.4 74.8 340.1 74.7C341.7 74.6 343.4 74.5 345.0 74.5C346.7 74.5 348.3 74.5 350.0 74.6C351.7 74.6 353.3 74.7 355.0 74.9C356.6 75.1 358.2 75.3 359.8 75.6C361.5 75.9 363.1 76.3 364.6 76.7C366.2 77.2 367.8 77.7 369.3 78.3C370.8 79.0 372.3 79.7 373.7 80.4C375.2 81.2 376.6 82.0 378.0 82.9C379.3 83.8 380.7 84.8 382.0 85.8C383.3 86.8 384.6 87.9 385.9 88.9C387.1 90.0 388.4 91.1 389.6 92.2C390.8 93.4 392.0 94.5 393.2 95.7C394.4 96.8 395.6 98.0 396.7 99.2C397.9 100.4 399.0 101.6 400.1 102.9C401.3 104.1 402.3 105.3 403.4 106.6C404.4 107.9 405.5 109.2 406.5 110.6C407.4 111.9 408.4 113.2 409.3 114.6C410.2 116.0 411.1 117.4 412.0 118.8C412.8 120.3 413.6 121.7 414.3 123.2C415.1 124.7 415.8 126.2 416.5 127.7C417.2 129.2 417.9 130.7 418.5 132.3C419.1 133.8 419.7 135.4 420.3 136.9C420.9 138.5 421.5 140.0 422.0 141.6C422.6 143.2 423.1 144.8 423.6 146.3C424.1 147.9 424.6 149.5 425.1 151.1C425.6 152.7 426.1 154.3 426.5 155.9C426.9 157.5 427.3 159.1 427.7 160.7C428.1 162.4 428.5 164.0 428.8 165.6C429.1 167.2 429.4 168.9 429.7 170.5C429.9 172.2 430.2 173.8 430.4 175.5C430.5 177.1 430.7 178.8 430.8 180.4C430.9 182.1 430.9 183.7 431.0 185.4C431.0 187.0 430.9 188.7 430.8 190.3C430.7 192.0 430.6 193.7 430.4 195.3C430.2 196.9 430.0 198.6 429.6 200.2C429.3 201.8 429.0 203.4 428.5 205.0C428.1 206.6 427.6 208.2 427.0 209.7C426.4 211.2 425.8 212.8 425.1 214.3C424.4 215.8 423.6 217.2 422.8 218.7C422.0 220.1 421.2 221.5 420.3 222.9C419.4 224.3 418.5 225.7 417.5 227.1C416.6 228.4 415.6 229.8 414.5 231.1C413.5 232.4 412.5 233.7 411.4 235.0C410.3 236.2 409.2 237.5 408.1 238.7C407.0 239.9 405.8 241.1 404.6 242.3C403.5 243.4 402.2 244.5 401.0 245.6C399.7 246.7 398.4 247.7 397.1 248.7C395.8 249.7 394.4 250.7 393.0 251.6C391.7 252.5 390.3 253.4 388.8 254.2C387.4 255.1 386.0 255.9 384.5 256.7C383.1 257.5 381.6 258.3 380.1 259.1C378.6 259.9 377.2 260.6 375.7 261.4C374.2 262.1 372.7 262.9 371.2 263.6C369.7 264.3 368.2 265.0 366.7 265.8C365.2 266.5 363.7 267.2 362.2 267.9C360.6 268.6 359.1 269.3 357.6 270.0C356.1 270.7 354.6 271.3 353.1 272.0C351.5 272.7 350.0 273.4 348.5 274.0C346.9 274.7 345.4 275.3 343.9 276.0C342.3 276.6 340.8 277.3 339.3 277.9C337.7 278.5 336.2 279.2 334.6 279.8C333.1 280.4 331.5 281.0 330.0 281.7C328.5 282.3 326.9 282.9 325.4 283.6C323.8 284.2 322.3 284.9 320.8 285.5C319.2 286.2 317.7 286.9 316.2 287.5C314.7 288.2 313.1 288.9 311.6 289.5C310.1 290.2 308.6 290.9 307.0 291.5C305.5 292.2 304.0 292.9 302.4 293.5C300.9 294.1 299.3 294.7 297.8 295.3C296.2 295.9 294.7 296.5 293.1 297.1C291.6 297.7 290.0 298.2 288.4 298.8C286.8 299.3 285.3 299.8 283.7 300.3C282.1 300.9 280.5 301.3 278.9 301.8C277.3 302.3 275.7 302.8 274.1 303.2C272.5 303.7 270.9 304.1 269.3 304.5C267.7 305.0 266.0 305.4 264.4 305.7C262.8 306.1 261.2 306.5 259.6 306.8C257.9 307.2 256.3 307.5 254.7 307.8C253.0 308.2 251.4 308.5 249.7 308.7C248.1 309.0 246.5 309.3 244.8 309.5C243.2 309.8 241.5 310.0 239.9 310.2C238.2 310.4 236.6 310.6 234.9 310.7C233.2 310.9 231.6 311.0 229.9 311.1C228.3 311.2 226.6 311.3 224.9 311.4C223.3 311.4 221.6 311.4 219.9 311.4C218.3 311.4 216.6 311.4 215.0 311.3C213.3 311.3 211.6 311.2 210.0 311.0C208.3 310.9 206.7 310.8 205.0 310.6C203.4 310.4 201.7 310.2 200.1 309.9C198.4 309.6 196.8 309.3 195.2 309.0C193.5 308.7 191.9 308.3 190.3 308.0C188.7 307.6 187.1 307.2 185.5 306.7C183.9 306.3 182.3 305.8 180.7 305.3C179.1 304.8 177.5 304.3 175.9 303.7C174.4 303.2 172.8 302.6 171.3 301.9C169.8 301.3 168.2 300.6 166.7 299.9C165.2 299.2 163.7 298.5 162.3 297.7C160.8 297.0 159.4 296.1 157.9 295.3C156.5 294.4 155.1 293.5 153.7 292.6C152.3 291.7 151.0 290.7 149.6 289.8C148.3 288.8 147.0 287.8 145.7 286.7C144.4 285.7 143.1 284.6 141.9 283.5C140.6 282.4 139.4 281.3 138.2 280.2C137.0 279.0 135.8 277.9 134.6 276.7C133.4 275.5 132.3 274.3 131.2 273.1C130.1 271.8 129.1 270.5 128.1 269.2C127.1 267.9 126.1 266.6 125.2 265.2C124.3 263.8 123.4 262.4 122.5 261.0C121.7 259.6 120.8 258.1 120.0 256.7C119.2 255.2 118.4 253.7 117.7 252.3C116.9 250.8 116.1 249.3 115.4 247.8C114.6 246.4 113.9 244.9 113.1 243.4C112.4 241.9 111.6 240.4 110.9 238.9C110.2 237.4 109.5 235.9 108.8 234.4C108.1 232.8 107.4 231.3 106.7 229.8C106.1 228.3 105.4 226.7 104.8 225.2C104.2 223.7 103.6 222.1 103.0 220.5C102.5 219.0 102.0 217.4 101.5 215.8C101.0 214.2 100.6 212.6 100.2 211.0C99.8 209.4 99.5 207.8 99.2 206.1C98.9 204.5 98.6 202.9 98.3 201.2C98.1 199.6 97.9 197.9 97.7 196.3C97.5 194.6 97.3 193.0 97.2 191.3C97.1 189.7 97.0 188.0 97.0 186.4C96.9 184.7 96.9 183.0 97.0 181.4C97.1 179.7 97.2 178.1 97.4 176.5C97.6 174.8 97.9 173.2 98.2 171.6C98.5 169.9 98.9 168.3 99.3 166.7C99.8 165.2 100.3 163.6 100.8 162.0C101.4 160.5 102.0 159.0 102.7 157.5C103.4 156.0 104.1 154.5 104.9 153.0C105.7 151.6 106.6 150.2 107.5 148.8C108.4 147.4 109.4 146.0 110.4 144.7C111.4 143.4 112.4 142.1 113.5 140.9C114.5 139.6 115.7 138.4 116.8 137.2C117.9 136.0 119.1 134.8 120.3 133.6C121.5 132.5 122.8 131.4 124.0 130.3C125.2 129.2 126.5 128.1 127.8 127.0C129.0 125.9 130.3 124.8 131.6 123.8C132.9 122.8 134.2 121.7 135.6 120.7C136.9 119.7 138.6 118.4 139.6 117.8C140.5 117.1 140.7 117.0 141.2 116.6C141.7 116.2 142.3 115.8 142.8 115.4C143.4 115.0 144.0 114.5 144.4 114.2C144.8 114.0 145.0 113.8 145.3 113.7C145.5 113.5 145.7 113.4 145.8 113.3" stroke="#DD6430"/>
</g>
<path d="M49.6 11.7V397.2H538.1 M49.65 397.2v-4.4M110.71 397.2v-4.4M171.76 397.2v-4.4M232.82 397.2v-4.4M293.88 397.2v-4.4M354.93 397.2v-4.4M415.99 397.2v-4.4M477.04 397.2v-4.4M538.10 397.2v-4.4M49.6 11.70h4.4M49.6 54.53h4.4M49.6 97.37h4.4M49.6 140.20h4.4M49.6 183.03h4.4M49.6 225.87h4.4M49.6 268.70h4.4M49.6 311.53h4.4M49.6 354.37h4.4M49.6 397.20h4.4" stroke="#606060" stroke-width="0.95" fill="none"/>
<g font-family="'Liberation Sans', Arial, sans-serif" font-size="11" fill="#1a1a1a" stroke="#1a1a1a" stroke-width="0.25">
<text x="49.2" y="412.3" text-anchor="middle">-10</text>
<text x="110.7" y="412.3" text-anchor="middle">0</text>
<text x="171.8" y="412.3" text-anchor="middle">10</text>
<text x="232.8" y="412.3" text-anchor="middle">20</text>
<text x="293.9" y="412.3" text-anchor="middle">30</text>
<text x="354.9" y="412.3" text-anchor="middle">40</text>
<text x="416.0" y="412.3" text-anchor="middle">50</text>
<text x="477.0" y="412.3" text-anchor="middle">60</text>
<text x="538.1" y="412.3" text-anchor="middle">70</text>
<text x="44.5" y="15.7" text-anchor="end">400</text>
<text x="44.5" y="58.5" text-anchor="end">300</text>
<text x="44.5" y="101.4" text-anchor="end">200</text>
<text x="44.5" y="144.2" text-anchor="end">100</text>
<text x="44.5" y="187.0" text-anchor="end">0</text>
<text x="44.5" y="229.9" text-anchor="end">-100</text>
<text x="44.5" y="272.7" text-anchor="end">-200</text>
<text x="44.5" y="315.5" text-anchor="end">-300</text>
<text x="44.5" y="358.4" text-anchor="end">-400</text>
<text x="44.5" y="401.2" text-anchor="end">-500</text>
</g>
<g font-family="'Liberation Sans', Arial, sans-serif" font-size="12.1" fill="#1a1a1a" stroke="#1a1a1a" stroke-width="0.2">
<text x="294" y="428.3" text-anchor="middle">Knee Angle (degree)</text>
<text transform="translate(15.0 203.2) rotate(-90)" text-anchor="middle">Knee Omega (deg/s)</text>
</g>
<rect x="140.1" y="142.4" width="104.2" height="90.1" rx="12.5" ry="12.5" fill="none" stroke="#111" stroke-width="1.4"/>
<path d="M251.8 161.4L239.9 170.2M249.3 206.4L232.3 210" stroke="#111" stroke-width="1.2" fill="none"/>
<g font-family="'Liberation Serif', 'Times New Roman', serif">
<text x="328.7" y="136.2" font-size="11" fill="#5a5a5a">Initial Lift</text>
<text x="321" y="233" font-size="11" fill="#5a5a5a">Final Lift</text>
<text x="251.6" y="163.9" font-size="11" fill="#111" stroke="#111" stroke-width="0.2">Initial Place</text>
<text x="251.6" y="209.8" font-size="11" fill="#111" stroke="#111" stroke-width="0.2">Final Place</text>
<text x="213.8" y="247.9" font-size="14.9" letter-spacing="0.58" fill="#111" stroke="#111" stroke-width="0.3">Inner Loop</text>
<text x="409.3" y="356.4" font-size="14.9" letter-spacing="0.62" fill="#4a4a4a" stroke="#4a4a4a" stroke-width="0.15">Outer Loop</text>
</g>
<rect x="458.5" y="20.7" width="71.5" height="120.3" fill="#fff" stroke="#555" stroke-width="0.75"/>
<g font-family="'Liberation Sans', Arial, sans-serif" font-size="10.4" fill="#000" stroke="#000" stroke-width="0.15">
<path d="M463.1 29.50H496.5" stroke="#1A80C4" stroke-width="1.6" fill="none"/>
<text x="499.9" y="32.9">Trial1</text>
<path d="M463.1 42.40H496.5" stroke="#DD6430" stroke-width="1.6" fill="none"/>
<text x="499.9" y="45.8">Trial2</text>
<path d="M463.1 55.30H496.5" stroke="#EFB936" stroke-width="1.6" fill="none"/>
<text x="499.9" y="58.7">Trial3</text>
<path d="M463.1 68.20H496.5" stroke="#8B4499" stroke-width="1.6" fill="none"/>
<text x="499.9" y="71.6">Trial4</text>
<path d="M463.1 81.10H496.5" stroke="#85B445" stroke-width="1.6" fill="none"/>
<text x="499.9" y="84.5">Trial5</text>
<path d="M463.1 94.00H496.5" stroke="#5FC4F0" stroke-width="1.6" fill="none"/>
<text x="499.9" y="97.4">Trial6</text>
<path d="M463.1 106.90H496.5" stroke="#AB2C44" stroke-width="1.6" fill="none"/>
<text x="499.9" y="110.3">Trial7</text>
<path d="M463.1 119.80H496.5" stroke="#1A80C4" stroke-width="1.6" fill="none"/>
<text x="499.9" y="123.2">Trial8</text>
<path d="M463.1 132.70H496.5" stroke="#DD6430" stroke-width="1.6" fill="none"/>
<text x="499.9" y="136.1">Trial9</text>
</g>
</svg>
</body></html>
